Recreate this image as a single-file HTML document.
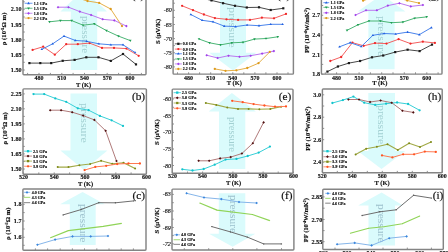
<!DOCTYPE html><html><head><meta charset="utf-8"><style>html,body{margin:0;padding:0;background:#fff;width:448px;height:252px;overflow:hidden}svg{display:block;-webkit-font-smoothing:antialiased;will-change:transform;transform:translateZ(0)}</style></head><body>
<svg width="448" height="252" viewBox="0 0 448 252">
<rect width="448" height="252" fill="#fff"/>
<polygon points="83.7,-10 107,11.5 97.2,11.5 97.2,70 70.8,70 70.8,11.5 60.4,11.5" fill="#dafbfc"/>
<polygon points="70.5,93.5 97,93.5 97,150.5 107.4,150.5 84,170 60.4,150.5 70.5,150.5" fill="#dafbfc"/>
<polygon points="82.6,192 104.8,204.2 95.7,204.2 95.7,245 69.8,245 69.8,204.2 60.1,204.2" fill="#dafbfc"/>
<polygon points="220,-10 246,-10 246,52.7 256.2,52.7 233,70.5 209.4,52.7 220,52.7" fill="#dafbfc"/>
<polygon points="231.9,93 255.9,111.4 245.3,111.4 245.3,169 219,169 219,111.4 208.7,111.4" fill="#dafbfc"/>
<polygon points="218.8,193.3 245.3,193.3 245.3,233.7 255.3,233.7 232.6,246.8 209.1,233.7 218.8,233.7" fill="#dafbfc"/>
<polygon points="381.8,-5.3 405.4,11.4 394.6,11.4 394.6,69.2 368.4,69.2 368.4,11.4 357.7,11.4" fill="#dafbfc"/>
<polygon points="368.3,93 395,93 395,151 405.2,151 381.5,169 357.8,151 368.3,151" fill="#dafbfc"/>
<polygon points="381.6,192.5 403,205.6 395,205.6 395,245.5 368.5,245.5 368.5,205.6 358.1,205.6" fill="#dafbfc"/>
<text x="0" y="0" transform="translate(81.58,16) rotate(90)" font-family="Liberation Serif" font-size="11" fill="#a2d0d2" textLength="37.2" lengthAdjust="spacingAndGlyphs">pressure</text>
<text x="0" y="0" transform="translate(80.58,103) rotate(90)" font-family="Liberation Serif" font-size="11" fill="#a2d0d2" textLength="39.80000000000001" lengthAdjust="spacingAndGlyphs">pressure</text>
<text x="0" y="0" transform="translate(79.99,204) rotate(90)" font-family="Liberation Serif" font-size="10.5" fill="#9cc0cc" textLength="38.400000000000006" lengthAdjust="spacingAndGlyphs">pressure</text>
<text x="0" y="0" transform="translate(228.58,7.1) rotate(90)" font-family="Liberation Serif" font-size="11" fill="#a2d0d2" textLength="40.5" lengthAdjust="spacingAndGlyphs">pressure</text>
<text x="0" y="0" transform="translate(229.29,117) rotate(90)" font-family="Liberation Serif" font-size="10.5" fill="#a2d0d2" textLength="35" lengthAdjust="spacingAndGlyphs">pressure</text>
<text x="0" y="0" transform="translate(229.69,195) rotate(90)" font-family="Liberation Serif" font-size="10.5" fill="#9cc0cc" textLength="38" lengthAdjust="spacingAndGlyphs">pressure</text>
<text x="0" y="0" transform="translate(377.97999999999996,16.1) rotate(90)" font-family="Liberation Serif" font-size="11" fill="#a2d0d2" textLength="40.3" lengthAdjust="spacingAndGlyphs">pressure</text>
<text x="0" y="0" transform="translate(378.09,105) rotate(90)" font-family="Liberation Serif" font-size="10.5" fill="#a2d0d2" textLength="39.19999999999999" lengthAdjust="spacingAndGlyphs">pressure</text>
<text x="0" y="0" transform="translate(377.72400000000005,204.1) rotate(90)" font-family="Liberation Serif" font-size="10.8" fill="#9cc0cc" textLength="38.5" lengthAdjust="spacingAndGlyphs">pressure</text>
<polyline points="29.4,63.1 40.3,63.1 51.2,63.1 62.7,60.8 74.6,59.9 86.3,57.3 98.5,57.3 110.8,60.9 123,54 136,64.4" fill="none" stroke="#484848" stroke-width="1.0" stroke-linejoin="round"/>
<rect x="28.307499999999997" y="62.0075" width="2.1849999999999996" height="2.1849999999999996" fill="#1a1a1a"/>
<rect x="39.207499999999996" y="62.0075" width="2.1849999999999996" height="2.1849999999999996" fill="#1a1a1a"/>
<rect x="50.1075" y="62.0075" width="2.1849999999999996" height="2.1849999999999996" fill="#1a1a1a"/>
<rect x="61.6075" y="59.707499999999996" width="2.1849999999999996" height="2.1849999999999996" fill="#1a1a1a"/>
<rect x="73.5075" y="58.8075" width="2.1849999999999996" height="2.1849999999999996" fill="#1a1a1a"/>
<rect x="85.2075" y="56.207499999999996" width="2.1849999999999996" height="2.1849999999999996" fill="#1a1a1a"/>
<rect x="97.4075" y="56.207499999999996" width="2.1849999999999996" height="2.1849999999999996" fill="#1a1a1a"/>
<rect x="109.7075" y="59.8075" width="2.1849999999999996" height="2.1849999999999996" fill="#1a1a1a"/>
<rect x="121.9075" y="52.9075" width="2.1849999999999996" height="2.1849999999999996" fill="#1a1a1a"/>
<rect x="134.9075" y="63.307500000000005" width="2.1849999999999996" height="2.1849999999999996" fill="#1a1a1a"/>
<polyline points="32.6,49.9 43.2,46.7 54.8,54.7 66.2,44.2 77.8,44.2 89.6,43.1 102,47.9 114,47.9 126.4,48.6 138.7,55.8" fill="none" stroke="#f46060" stroke-width="1.0" stroke-linejoin="round"/>
<circle cx="32.6" cy="49.9" r="1.15" fill="#f02828"/>
<circle cx="43.2" cy="46.7" r="1.15" fill="#f02828"/>
<circle cx="54.8" cy="54.7" r="1.15" fill="#f02828"/>
<circle cx="66.2" cy="44.2" r="1.15" fill="#f02828"/>
<circle cx="77.8" cy="44.2" r="1.15" fill="#f02828"/>
<circle cx="89.6" cy="43.1" r="1.15" fill="#f02828"/>
<circle cx="102" cy="47.9" r="1.15" fill="#f02828"/>
<circle cx="114" cy="47.9" r="1.15" fill="#f02828"/>
<circle cx="126.4" cy="48.6" r="1.15" fill="#f02828"/>
<circle cx="138.7" cy="55.8" r="1.15" fill="#f02828"/>
<polyline points="41.8,49.3 52.7,43.8 64,36.1 75.2,40.4 86.7,41.3 98.8,43.8 110.8,44.8 123,44.8 135.1,52.5" fill="none" stroke="#4a84ec" stroke-width="1.0" stroke-linejoin="round"/>
<polygon points="41.8,47.934374999999996 43.09734374999999,50.119375 40.50265625,50.119375" fill="#1f5fe0"/>
<polygon points="52.7,42.434374999999996 53.99734375,44.619375 51.40265625000001,44.619375" fill="#1f5fe0"/>
<polygon points="64,34.734375 65.29734375,36.919375 62.702656250000004,36.919375" fill="#1f5fe0"/>
<polygon points="75.2,39.034375 76.49734375,41.219375 73.90265625,41.219375" fill="#1f5fe0"/>
<polygon points="86.7,39.934374999999996 87.99734375,42.119375 85.40265625,42.119375" fill="#1f5fe0"/>
<polygon points="98.8,42.434374999999996 100.09734375,44.619375 97.50265625,44.619375" fill="#1f5fe0"/>
<polygon points="110.8,43.434374999999996 112.09734375,45.619375 109.50265625,45.619375" fill="#1f5fe0"/>
<polygon points="123,43.434374999999996 124.29734375,45.619375 121.70265625,45.619375" fill="#1f5fe0"/>
<polygon points="135.1,51.134375 136.39734375,53.319375 133.80265624999998,53.319375" fill="#1f5fe0"/>
<polyline points="49.5,21.8 60.4,20.6 71.7,20.6 83.1,25.2 94.3,23.9 106.5,30.6 118.4,36.1 130.3,40.6" fill="none" stroke="#4cb676" stroke-width="1.0" stroke-linejoin="round"/>
<polygon points="49.5,23.165625 50.797343749999996,20.980625 48.202656250000004,20.980625" fill="#1e9e52"/>
<polygon points="60.4,21.965625000000003 61.69734375,19.780625 59.102656249999995,19.780625" fill="#1e9e52"/>
<polygon points="71.7,21.965625000000003 72.99734375,19.780625 70.40265625,19.780625" fill="#1e9e52"/>
<polygon points="83.1,26.565624999999997 84.39734374999999,24.380625 81.80265625,24.380625" fill="#1e9e52"/>
<polygon points="94.3,25.265625 95.59734375,23.080624999999998 93.00265625,23.080624999999998" fill="#1e9e52"/>
<polygon points="106.5,31.965625000000003 107.79734375,29.780625 105.20265625,29.780625" fill="#1e9e52"/>
<polygon points="118.4,37.465625 119.69734375,35.280625 117.10265625000001,35.280625" fill="#1e9e52"/>
<polygon points="130.3,41.965625 131.59734375000002,39.780625 129.00265625,39.780625" fill="#1e9e52"/>
<polyline points="58,7.2 68.5,7.2 79.8,11.6 91.1,15 102.7,19.3 114.3,20.4 126.4,26.1" fill="none" stroke="#bc78f0" stroke-width="1.0" stroke-linejoin="round"/>
<polygon points="58,5.889 59.311,7.2 58,8.511 56.689,7.2" fill="#a040ea"/>
<polygon points="68.5,5.889 69.81099999999999,7.2 68.5,8.511 67.18900000000001,7.2" fill="#a040ea"/>
<polygon points="79.8,10.289 81.11099999999999,11.6 79.8,12.911 78.489,11.6" fill="#a040ea"/>
<polygon points="91.1,13.689 92.41099999999999,15 91.1,16.311 89.789,15" fill="#a040ea"/>
<polygon points="102.7,17.989 104.011,19.3 102.7,20.611 101.38900000000001,19.3" fill="#a040ea"/>
<polygon points="114.3,19.089 115.61099999999999,20.4 114.3,21.711 112.989,20.4" fill="#a040ea"/>
<polygon points="126.4,24.789 127.711,26.1 126.4,27.411 125.08900000000001,26.1" fill="#a040ea"/>
<polyline points="76,-2.5 87.5,1 99.2,2.9 110.7,9 122,26.1" fill="none" stroke="#e6b048" stroke-width="1.0" stroke-linejoin="round"/>
<circle cx="76" cy="-2.5" r="1.15" fill="#dc9a1c"/>
<circle cx="87.5" cy="1" r="1.15" fill="#dc9a1c"/>
<circle cx="99.2" cy="2.9" r="1.15" fill="#dc9a1c"/>
<circle cx="110.7" cy="9" r="1.15" fill="#dc9a1c"/>
<circle cx="122" cy="26.1" r="1.15" fill="#dc9a1c"/>
<polyline points="188,-5 199.8,-2.2 211.5,0.4 223.1,3.2 235,5.8 246.8,7.5 259,7.3 270.7,10 283.3,8.3" fill="none" stroke="#484848" stroke-width="1.0" stroke-linejoin="round"/>
<rect x="186.9075" y="-6.092499999999999" width="2.1849999999999996" height="2.1849999999999996" fill="#1a1a1a"/>
<rect x="198.7075" y="-3.2925" width="2.1849999999999996" height="2.1849999999999996" fill="#1a1a1a"/>
<rect x="210.4075" y="-0.6924999999999998" width="2.1849999999999996" height="2.1849999999999996" fill="#1a1a1a"/>
<rect x="222.0075" y="2.1075000000000004" width="2.1849999999999996" height="2.1849999999999996" fill="#1a1a1a"/>
<rect x="233.9075" y="4.7075" width="2.1849999999999996" height="2.1849999999999996" fill="#1a1a1a"/>
<rect x="245.7075" y="6.407500000000001" width="2.1849999999999996" height="2.1849999999999996" fill="#1a1a1a"/>
<rect x="257.9075" y="6.2075" width="2.1849999999999996" height="2.1849999999999996" fill="#1a1a1a"/>
<rect x="269.6075" y="8.9075" width="2.1849999999999996" height="2.1849999999999996" fill="#1a1a1a"/>
<rect x="282.20750000000004" y="7.207500000000001" width="2.1849999999999996" height="2.1849999999999996" fill="#1a1a1a"/>
<polyline points="182.1,5.8 193,10.2 203.9,14.5 214.9,18.1 226.5,19.3 238.1,19.9 250,19.9 261.9,17.7 274,18.3 286,13.9" fill="none" stroke="#f46060" stroke-width="1.0" stroke-linejoin="round"/>
<circle cx="182.1" cy="5.8" r="1.15" fill="#f02828"/>
<circle cx="193" cy="10.2" r="1.15" fill="#f02828"/>
<circle cx="203.9" cy="14.5" r="1.15" fill="#f02828"/>
<circle cx="214.9" cy="18.1" r="1.15" fill="#f02828"/>
<circle cx="226.5" cy="19.3" r="1.15" fill="#f02828"/>
<circle cx="238.1" cy="19.9" r="1.15" fill="#f02828"/>
<circle cx="250" cy="19.9" r="1.15" fill="#f02828"/>
<circle cx="261.9" cy="17.7" r="1.15" fill="#f02828"/>
<circle cx="274" cy="18.3" r="1.15" fill="#f02828"/>
<circle cx="286" cy="13.9" r="1.15" fill="#f02828"/>
<polyline points="190.8,14.5 202.1,20.3 213,21.8 224.2,26.1 235.5,26.6 247.1,25 259,25.7 270.7,24.3 282.6,24.3" fill="none" stroke="#4a84ec" stroke-width="1.0" stroke-linejoin="round"/>
<polygon points="190.8,13.134375 192.09734375000002,15.319374999999999 189.50265625,15.319374999999999" fill="#1f5fe0"/>
<polygon points="202.1,18.934375000000003 203.39734375,21.119375 200.80265624999998,21.119375" fill="#1f5fe0"/>
<polygon points="213,20.434375000000003 214.29734375,22.619375 211.70265625,22.619375" fill="#1f5fe0"/>
<polygon points="224.2,24.734375 225.49734375,26.919375000000002 222.90265624999998,26.919375000000002" fill="#1f5fe0"/>
<polygon points="235.5,25.234375 236.79734375,27.419375000000002 234.20265625,27.419375000000002" fill="#1f5fe0"/>
<polygon points="247.1,23.634375 248.39734375,25.819375 245.80265624999998,25.819375" fill="#1f5fe0"/>
<polygon points="259,24.334375 260.29734375,26.519375 257.70265625,26.519375" fill="#1f5fe0"/>
<polygon points="270.7,22.934375000000003 271.99734374999997,25.119375 269.40265625,25.119375" fill="#1f5fe0"/>
<polygon points="282.6,22.934375000000003 283.89734375,25.119375 281.30265625000004,25.119375" fill="#1f5fe0"/>
<polyline points="199,39 209.5,42.8 220.5,44.9 231.8,42.8 243,42.3 254.5,39.1 266,38.5 277.8,36.8" fill="none" stroke="#4cb676" stroke-width="1.0" stroke-linejoin="round"/>
<polygon points="199,40.365625 200.29734375,38.180625 197.70265625,38.180625" fill="#1e9e52"/>
<polygon points="209.5,44.165625 210.79734375,41.980624999999996 208.20265625,41.980624999999996" fill="#1e9e52"/>
<polygon points="220.5,46.265625 221.79734375,44.080625 219.20265625,44.080625" fill="#1e9e52"/>
<polygon points="231.8,44.165625 233.09734375000002,41.980624999999996 230.50265625,41.980624999999996" fill="#1e9e52"/>
<polygon points="243,43.665625 244.29734375,41.480624999999996 241.70265625,41.480624999999996" fill="#1e9e52"/>
<polygon points="254.5,40.465625 255.79734375,38.280625 253.20265625,38.280625" fill="#1e9e52"/>
<polygon points="266,39.865625 267.29734375,37.680625 264.70265625,37.680625" fill="#1e9e52"/>
<polygon points="277.8,38.165625 279.09734375,35.980624999999996 276.50265625000003,35.980624999999996" fill="#1e9e52"/>
<polyline points="206.7,55.2 217.6,58 228.5,55.7 239.5,56.8 250.7,55.7 262.1,53.6 273.9,51.1" fill="none" stroke="#bc78f0" stroke-width="1.0" stroke-linejoin="round"/>
<polygon points="206.7,53.889 208.011,55.2 206.7,56.511 205.38899999999998,55.2" fill="#a040ea"/>
<polygon points="217.6,56.689 218.911,58 217.6,59.311 216.289,58" fill="#a040ea"/>
<polygon points="228.5,54.389 229.811,55.7 228.5,57.011 227.189,55.7" fill="#a040ea"/>
<polygon points="239.5,55.489 240.811,56.8 239.5,58.111 238.189,56.8" fill="#a040ea"/>
<polygon points="250.7,54.389 252.011,55.7 250.7,57.011 249.38899999999998,55.7" fill="#a040ea"/>
<polygon points="262.1,52.289 263.411,53.6 262.1,54.911 260.78900000000004,53.6" fill="#a040ea"/>
<polygon points="273.9,49.789 275.21099999999996,51.1 273.9,52.411 272.589,51.1" fill="#a040ea"/>
<polyline points="214.8,68.9 225.5,70.8 236.4,70.3 247.3,68 258.5,63.2 269.8,51.9" fill="none" stroke="#e6b048" stroke-width="1.0" stroke-linejoin="round"/>
<circle cx="214.8" cy="68.9" r="1.15" fill="#dc9a1c"/>
<circle cx="225.5" cy="70.8" r="1.15" fill="#dc9a1c"/>
<circle cx="236.4" cy="70.3" r="1.15" fill="#dc9a1c"/>
<circle cx="247.3" cy="68" r="1.15" fill="#dc9a1c"/>
<circle cx="258.5" cy="63.2" r="1.15" fill="#dc9a1c"/>
<circle cx="269.8" cy="51.9" r="1.15" fill="#dc9a1c"/>
<polyline points="327.4,71.6 337.9,66.5 348.9,63.1 360.1,61 372,57.3 383.2,55.5 395.2,52.1 407.6,49.7 419.6,51.1 432,44.6" fill="none" stroke="#484848" stroke-width="1.0" stroke-linejoin="round"/>
<rect x="326.3075" y="70.5075" width="2.1849999999999996" height="2.1849999999999996" fill="#1a1a1a"/>
<rect x="336.8075" y="65.4075" width="2.1849999999999996" height="2.1849999999999996" fill="#1a1a1a"/>
<rect x="347.8075" y="62.0075" width="2.1849999999999996" height="2.1849999999999996" fill="#1a1a1a"/>
<rect x="359.00750000000005" y="59.9075" width="2.1849999999999996" height="2.1849999999999996" fill="#1a1a1a"/>
<rect x="370.9075" y="56.207499999999996" width="2.1849999999999996" height="2.1849999999999996" fill="#1a1a1a"/>
<rect x="382.1075" y="54.4075" width="2.1849999999999996" height="2.1849999999999996" fill="#1a1a1a"/>
<rect x="394.1075" y="51.0075" width="2.1849999999999996" height="2.1849999999999996" fill="#1a1a1a"/>
<rect x="406.50750000000005" y="48.6075" width="2.1849999999999996" height="2.1849999999999996" fill="#1a1a1a"/>
<rect x="418.50750000000005" y="50.0075" width="2.1849999999999996" height="2.1849999999999996" fill="#1a1a1a"/>
<rect x="430.9075" y="43.5075" width="2.1849999999999996" height="2.1849999999999996" fill="#1a1a1a"/>
<polyline points="330.3,61 341.2,57 352.4,42.7 363.7,45.8 375,43.1 386.5,43.6 398.6,39.2 410.5,43.6 422.8,41.7 434.9,42.9" fill="none" stroke="#f46060" stroke-width="1.0" stroke-linejoin="round"/>
<circle cx="330.3" cy="61" r="1.15" fill="#f02828"/>
<circle cx="341.2" cy="57" r="1.15" fill="#f02828"/>
<circle cx="352.4" cy="42.7" r="1.15" fill="#f02828"/>
<circle cx="363.7" cy="45.8" r="1.15" fill="#f02828"/>
<circle cx="375" cy="43.1" r="1.15" fill="#f02828"/>
<circle cx="386.5" cy="43.6" r="1.15" fill="#f02828"/>
<circle cx="398.6" cy="39.2" r="1.15" fill="#f02828"/>
<circle cx="410.5" cy="43.6" r="1.15" fill="#f02828"/>
<circle cx="422.8" cy="41.7" r="1.15" fill="#f02828"/>
<circle cx="434.9" cy="42.9" r="1.15" fill="#f02828"/>
<polyline points="339.5,46.8 350.2,42.7 361.3,46.5 372.9,35.3 384.1,33.5 395.7,34 407.6,32.1 419.4,34.6 431.4,27.6" fill="none" stroke="#4a84ec" stroke-width="1.0" stroke-linejoin="round"/>
<polygon points="339.5,45.434374999999996 340.79734375,47.619375 338.20265625,47.619375" fill="#1f5fe0"/>
<polygon points="350.2,41.334375 351.49734374999997,43.519375000000004 348.90265625,43.519375000000004" fill="#1f5fe0"/>
<polygon points="361.3,45.134375 362.59734375,47.319375 360.00265625000003,47.319375" fill="#1f5fe0"/>
<polygon points="372.9,33.934374999999996 374.19734374999996,36.119375 371.60265625,36.119375" fill="#1f5fe0"/>
<polygon points="384.1,32.134375 385.39734375,34.319375 382.80265625000004,34.319375" fill="#1f5fe0"/>
<polygon points="395.7,32.634375 396.99734374999997,34.819375 394.40265625,34.819375" fill="#1f5fe0"/>
<polygon points="407.6,30.734375 408.89734375,32.919375 406.30265625000004,32.919375" fill="#1f5fe0"/>
<polygon points="419.4,33.234375 420.69734374999996,35.419375 418.10265625,35.419375" fill="#1f5fe0"/>
<polygon points="431.4,26.234375 432.69734374999996,28.419375000000002 430.10265625,28.419375000000002" fill="#1f5fe0"/>
<polyline points="347,30.3 358,24.8 369,21 380.4,21 391.4,22.7 402.9,22.1 414.7,18.2 426.7,16.9" fill="none" stroke="#4cb676" stroke-width="1.0" stroke-linejoin="round"/>
<polygon points="347,31.665625 348.29734375,29.480625 345.70265625,29.480625" fill="#1e9e52"/>
<polygon points="358,26.165625 359.29734375,23.980625 356.70265625,23.980625" fill="#1e9e52"/>
<polygon points="369,22.365625 370.29734375,20.180625 367.70265625,20.180625" fill="#1e9e52"/>
<polygon points="380.4,22.365625 381.69734374999996,20.180625 379.10265625,20.180625" fill="#1e9e52"/>
<polygon points="391.4,24.065624999999997 392.69734374999996,21.880625 390.10265625,21.880625" fill="#1e9e52"/>
<polygon points="402.9,23.465625000000003 404.19734374999996,21.280625 401.60265625,21.280625" fill="#1e9e52"/>
<polygon points="414.7,19.565624999999997 415.99734374999997,17.380625 413.40265625,17.380625" fill="#1e9e52"/>
<polygon points="426.7,18.265625 427.99734374999997,16.080624999999998 425.40265625,16.080624999999998" fill="#1e9e52"/>
<polyline points="355.5,15 366,10.3 376.9,10.3 387.9,5.6 399.4,3.2 410.8,6.4 422.9,5" fill="none" stroke="#bc78f0" stroke-width="1.0" stroke-linejoin="round"/>
<polygon points="355.5,13.689 356.811,15 355.5,16.311 354.189,15" fill="#a040ea"/>
<polygon points="366,8.989 367.311,10.3 366,11.611 364.689,10.3" fill="#a040ea"/>
<polygon points="376.9,8.989 378.21099999999996,10.3 376.9,11.611 375.589,10.3" fill="#a040ea"/>
<polygon points="387.9,4.289 389.21099999999996,5.6 387.9,6.911 386.589,5.6" fill="#a040ea"/>
<polygon points="399.4,1.8890000000000005 400.71099999999996,3.2 399.4,4.511 398.089,3.2" fill="#a040ea"/>
<polygon points="410.8,5.089 412.111,6.4 410.8,7.711 409.48900000000003,6.4" fill="#a040ea"/>
<polygon points="422.9,3.689 424.21099999999996,5 422.9,6.311 421.589,5" fill="#a040ea"/>
<polyline points="363.1,0.7 374,-3 385,-5 396,-3 407.2,0.5 419,3.1" fill="none" stroke="#e6b048" stroke-width="1.0" stroke-linejoin="round"/>
<circle cx="363.1" cy="0.7" r="1.15" fill="#dc9a1c"/>
<circle cx="374" cy="-3" r="1.15" fill="#dc9a1c"/>
<circle cx="385" cy="-5" r="1.15" fill="#dc9a1c"/>
<circle cx="396" cy="-3" r="1.15" fill="#dc9a1c"/>
<circle cx="407.2" cy="0.5" r="1.15" fill="#dc9a1c"/>
<circle cx="419" cy="3.1" r="1.15" fill="#dc9a1c"/>
<polyline points="33.5,94.1 44.2,94.1 55.3,98.4 66.2,101.8 77.8,108.3 88.6,110.2 99.9,115.9 111.6,120.3 123,125.9" fill="none" stroke="#38d0d8" stroke-width="1.0" stroke-linejoin="round"/>
<circle cx="33.5" cy="94.1" r="1.15" fill="#12c4cc"/>
<circle cx="44.2" cy="94.1" r="1.15" fill="#12c4cc"/>
<circle cx="55.3" cy="98.4" r="1.15" fill="#12c4cc"/>
<circle cx="66.2" cy="101.8" r="1.15" fill="#12c4cc"/>
<circle cx="77.8" cy="108.3" r="1.15" fill="#12c4cc"/>
<circle cx="88.6" cy="110.2" r="1.15" fill="#12c4cc"/>
<circle cx="99.9" cy="115.9" r="1.15" fill="#12c4cc"/>
<circle cx="111.6" cy="120.3" r="1.15" fill="#12c4cc"/>
<circle cx="123" cy="125.9" r="1.15" fill="#12c4cc"/>
<polyline points="50.2,110.2 61.1,110.2 72.2,112.2 83.1,115.6 94.4,119.9 105.6,130.7 116.5,161" fill="none" stroke="#b07a7a" stroke-width="1.0" stroke-linejoin="round"/>
<polygon points="50.2,108.88900000000001 51.511,110.2 50.2,111.511 48.889,110.2" fill="#501010"/>
<polygon points="61.1,108.88900000000001 62.411,110.2 61.1,111.511 59.789,110.2" fill="#501010"/>
<polygon points="72.2,110.88900000000001 73.511,112.2 72.2,113.511 70.88900000000001,112.2" fill="#501010"/>
<polygon points="83.1,114.289 84.41099999999999,115.6 83.1,116.91099999999999 81.789,115.6" fill="#501010"/>
<polygon points="94.4,118.58900000000001 95.711,119.9 94.4,121.211 93.08900000000001,119.9" fill="#501010"/>
<polygon points="105.6,129.38899999999998 106.91099999999999,130.7 105.6,132.011 104.289,130.7" fill="#501010"/>
<polygon points="116.5,159.689 117.81099999999999,161 116.5,162.311 115.18900000000001,161" fill="#501010"/>
<polyline points="57.7,167.1 68.5,167.1 79.4,165.2 90.1,164 101.1,160.7 112.2,163.8 123.5,162.8 135.1,168.6" fill="none" stroke="#a2aa48" stroke-width="1.15" stroke-linejoin="round"/>
<circle cx="57.7" cy="167.1" r="1.0" fill="#7e8a18"/>
<circle cx="68.5" cy="167.1" r="1.0" fill="#7e8a18"/>
<circle cx="79.4" cy="165.2" r="1.0" fill="#7e8a18"/>
<circle cx="90.1" cy="164" r="1.0" fill="#7e8a18"/>
<circle cx="101.1" cy="160.7" r="1.0" fill="#7e8a18"/>
<circle cx="112.2" cy="163.8" r="1.0" fill="#7e8a18"/>
<circle cx="123.5" cy="162.8" r="1.0" fill="#7e8a18"/>
<circle cx="135.1" cy="168.6" r="1.0" fill="#7e8a18"/>
<polyline points="84.6,170.1 95.3,166.9 106.2,165.8 117.2,164 128.5,163.5 139.9,163.5" fill="none" stroke="#ff7a52" stroke-width="1.0" stroke-linejoin="round"/>
<circle cx="84.6" cy="170.1" r="1.15" fill="#ff5422"/>
<circle cx="95.3" cy="166.9" r="1.15" fill="#ff5422"/>
<circle cx="106.2" cy="165.8" r="1.15" fill="#ff5422"/>
<circle cx="117.2" cy="164" r="1.15" fill="#ff5422"/>
<circle cx="128.5" cy="163.5" r="1.15" fill="#ff5422"/>
<circle cx="139.9" cy="163.5" r="1.15" fill="#ff5422"/>
<polyline points="182.3,169.3 192.5,170.5 203.7,169 214.7,164.7 225.6,159.6 236.5,158.9 247.7,156 258.7,152.6 269.9,146.6" fill="none" stroke="#38d0d8" stroke-width="1.0" stroke-linejoin="round"/>
<circle cx="182.3" cy="169.3" r="1.15" fill="#12c4cc"/>
<circle cx="192.5" cy="170.5" r="1.15" fill="#12c4cc"/>
<circle cx="203.7" cy="169" r="1.15" fill="#12c4cc"/>
<circle cx="214.7" cy="164.7" r="1.15" fill="#12c4cc"/>
<circle cx="225.6" cy="159.6" r="1.15" fill="#12c4cc"/>
<circle cx="236.5" cy="158.9" r="1.15" fill="#12c4cc"/>
<circle cx="247.7" cy="156" r="1.15" fill="#12c4cc"/>
<circle cx="258.7" cy="152.6" r="1.15" fill="#12c4cc"/>
<circle cx="269.9" cy="146.6" r="1.15" fill="#12c4cc"/>
<polyline points="198.6,160.8 209.2,160.8 220.1,158.4 230.7,157.1 241.9,153.5 252.8,143.3 263.6,122.4" fill="none" stroke="#b07a7a" stroke-width="1.0" stroke-linejoin="round"/>
<polygon points="198.6,159.489 199.911,160.8 198.6,162.11100000000002 197.289,160.8" fill="#501010"/>
<polygon points="209.2,159.489 210.511,160.8 209.2,162.11100000000002 207.88899999999998,160.8" fill="#501010"/>
<polygon points="220.1,157.089 221.411,158.4 220.1,159.711 218.789,158.4" fill="#501010"/>
<polygon points="230.7,155.789 232.011,157.1 230.7,158.411 229.38899999999998,157.1" fill="#501010"/>
<polygon points="241.9,152.189 243.211,153.5 241.9,154.811 240.589,153.5" fill="#501010"/>
<polygon points="252.8,141.989 254.11100000000002,143.3 252.8,144.61100000000002 251.489,143.3" fill="#501010"/>
<polygon points="263.6,121.08900000000001 264.911,122.4 263.6,123.711 262.28900000000004,122.4" fill="#501010"/>
<polyline points="205.8,103 216.3,104.9 227.3,107.5 238,108.9 248.6,108.9 259.4,109.2 270.3,108.9 281.1,106.7" fill="none" stroke="#a2aa48" stroke-width="1.15" stroke-linejoin="round"/>
<circle cx="205.8" cy="103" r="1.0" fill="#7e8a18"/>
<circle cx="216.3" cy="104.9" r="1.0" fill="#7e8a18"/>
<circle cx="227.3" cy="107.5" r="1.0" fill="#7e8a18"/>
<circle cx="238" cy="108.9" r="1.0" fill="#7e8a18"/>
<circle cx="248.6" cy="108.9" r="1.0" fill="#7e8a18"/>
<circle cx="259.4" cy="109.2" r="1.0" fill="#7e8a18"/>
<circle cx="270.3" cy="108.9" r="1.0" fill="#7e8a18"/>
<circle cx="281.1" cy="106.7" r="1.0" fill="#7e8a18"/>
<polyline points="232.2,100.8 242.7,102.2 253.6,104.1 264.4,105.5 275,106.7 286,106.4" fill="none" stroke="#ff7a52" stroke-width="1.0" stroke-linejoin="round"/>
<circle cx="232.2" cy="100.8" r="1.15" fill="#ff5422"/>
<circle cx="242.7" cy="102.2" r="1.15" fill="#ff5422"/>
<circle cx="253.6" cy="104.1" r="1.15" fill="#ff5422"/>
<circle cx="264.4" cy="105.5" r="1.15" fill="#ff5422"/>
<circle cx="275" cy="106.7" r="1.15" fill="#ff5422"/>
<circle cx="286" cy="106.4" r="1.15" fill="#ff5422"/>
<polyline points="332.4,103 342.9,100.1 353.4,96.6 364.2,102.7 375.2,104.9 386.1,103.7 397.1,102.5 408.1,104 419.6,110.3" fill="none" stroke="#38d0d8" stroke-width="1.0" stroke-linejoin="round"/>
<circle cx="332.4" cy="103" r="1.15" fill="#12c4cc"/>
<circle cx="342.9" cy="100.1" r="1.15" fill="#12c4cc"/>
<circle cx="353.4" cy="96.6" r="1.15" fill="#12c4cc"/>
<circle cx="364.2" cy="102.7" r="1.15" fill="#12c4cc"/>
<circle cx="375.2" cy="104.9" r="1.15" fill="#12c4cc"/>
<circle cx="386.1" cy="103.7" r="1.15" fill="#12c4cc"/>
<circle cx="397.1" cy="102.5" r="1.15" fill="#12c4cc"/>
<circle cx="408.1" cy="104" r="1.15" fill="#12c4cc"/>
<circle cx="419.6" cy="110.3" r="1.15" fill="#12c4cc"/>
<polyline points="348.4,99.5 359,99.5 370.1,102 380.6,100.5 391.7,102.7 402.4,110.7 413.3,112.4" fill="none" stroke="#b07a7a" stroke-width="1.0" stroke-linejoin="round"/>
<polygon points="348.4,98.18900000000001 349.71099999999996,99.5 348.4,100.81099999999999 347.089,99.5" fill="#501010"/>
<polygon points="359,98.18900000000001 360.311,99.5 359,100.81099999999999 357.689,99.5" fill="#501010"/>
<polygon points="370.1,100.68900000000001 371.411,102 370.1,103.31099999999999 368.78900000000004,102" fill="#501010"/>
<polygon points="380.6,99.18900000000001 381.911,100.5 380.6,101.81099999999999 379.28900000000004,100.5" fill="#501010"/>
<polygon points="391.7,101.38900000000001 393.01099999999997,102.7 391.7,104.011 390.389,102.7" fill="#501010"/>
<polygon points="402.4,109.38900000000001 403.71099999999996,110.7 402.4,112.011 401.089,110.7" fill="#501010"/>
<polygon points="413.3,111.08900000000001 414.611,112.4 413.3,113.711 411.98900000000003,112.4" fill="#501010"/>
<polyline points="355.6,154.4 366.2,148.7 376.9,146.7 387.5,144.2 397.8,150.1 409.1,143.3 420,147 431,141.9" fill="none" stroke="#a2aa48" stroke-width="1.15" stroke-linejoin="round"/>
<circle cx="355.6" cy="154.4" r="1.0" fill="#7e8a18"/>
<circle cx="366.2" cy="148.7" r="1.0" fill="#7e8a18"/>
<circle cx="376.9" cy="146.7" r="1.0" fill="#7e8a18"/>
<circle cx="387.5" cy="144.2" r="1.0" fill="#7e8a18"/>
<circle cx="397.8" cy="150.1" r="1.0" fill="#7e8a18"/>
<circle cx="409.1" cy="143.3" r="1.0" fill="#7e8a18"/>
<circle cx="420" cy="147" r="1.0" fill="#7e8a18"/>
<circle cx="431" cy="141.9" r="1.0" fill="#7e8a18"/>
<polyline points="382,155.4 392.4,157.4 403.1,154.3 414.1,154.3 424.8,151.6 435.8,151.9" fill="none" stroke="#ff7a52" stroke-width="1.0" stroke-linejoin="round"/>
<circle cx="382" cy="155.4" r="1.15" fill="#ff5422"/>
<circle cx="392.4" cy="157.4" r="1.15" fill="#ff5422"/>
<circle cx="403.1" cy="154.3" r="1.15" fill="#ff5422"/>
<circle cx="414.1" cy="154.3" r="1.15" fill="#ff5422"/>
<circle cx="424.8" cy="151.6" r="1.15" fill="#ff5422"/>
<circle cx="435.8" cy="151.9" r="1.15" fill="#ff5422"/>
<polyline points="37.4,244.8 55.1,239.6 72.5,236.4 90.7,236.4 108,236" fill="none" stroke="#86b6ea" stroke-width="1.0" stroke-linejoin="round"/>
<polygon points="37.4,243.489 38.711,244.8 37.4,246.11100000000002 36.089,244.8" fill="#3a86dc"/>
<polygon points="55.1,238.289 56.411,239.6 55.1,240.911 53.789,239.6" fill="#3a86dc"/>
<polygon points="72.5,235.089 73.81099999999999,236.4 72.5,237.711 71.18900000000001,236.4" fill="#3a86dc"/>
<polygon points="90.7,235.089 92.011,236.4 90.7,237.711 89.38900000000001,236.4" fill="#3a86dc"/>
<polygon points="108,234.689 109.31099999999999,236 108,237.311 106.68900000000001,236" fill="#3a86dc"/>
<polyline points="50.5,237.8 68.3,230.6 103.2,226.4 121.6,223.4" fill="none" stroke="#90d458" stroke-width="1.15" stroke-linejoin="round"/>
<circle cx="50.5" cy="237.8" r="0.45" fill="#84d044"/>
<circle cx="68.3" cy="230.6" r="0.45" fill="#84d044"/>
<circle cx="103.2" cy="226.4" r="0.45" fill="#84d044"/>
<circle cx="121.6" cy="223.4" r="0.45" fill="#84d044"/>
<polyline points="63.1,214.9 81,209.6 98.8,202.7 115.4,202.8 133.7,200.9" fill="none" stroke="#6e6e6e" stroke-width="1.0" stroke-linejoin="round"/>
<circle cx="63.1" cy="214.9" r="0.7" fill="#555555"/>
<circle cx="81" cy="209.6" r="0.7" fill="#555555"/>
<circle cx="98.8" cy="202.7" r="0.7" fill="#555555"/>
<circle cx="115.4" cy="202.8" r="0.7" fill="#555555"/>
<circle cx="133.7" cy="200.9" r="0.7" fill="#555555"/>
<polyline points="186.6,193.3 204,197.5 221.3,199.1 239,202 256.6,203" fill="none" stroke="#86b6ea" stroke-width="1.0" stroke-linejoin="round"/>
<polygon points="186.6,191.989 187.911,193.3 186.6,194.61100000000002 185.289,193.3" fill="#3a86dc"/>
<polygon points="204,196.189 205.311,197.5 204,198.811 202.689,197.5" fill="#3a86dc"/>
<polygon points="221.3,197.789 222.61100000000002,199.1 221.3,200.411 219.989,199.1" fill="#3a86dc"/>
<polygon points="239,200.689 240.311,202 239,203.311 237.689,202" fill="#3a86dc"/>
<polygon points="256.6,201.689 257.911,203 256.6,204.311 255.28900000000002,203" fill="#3a86dc"/>
<polyline points="199.8,203 217,210.1 252.4,214.5 269.8,220.6" fill="none" stroke="#90d458" stroke-width="1.15" stroke-linejoin="round"/>
<circle cx="199.8" cy="203" r="0.45" fill="#84d044"/>
<circle cx="217" cy="210.1" r="0.45" fill="#84d044"/>
<circle cx="252.4" cy="214.5" r="0.45" fill="#84d044"/>
<circle cx="269.8" cy="220.6" r="0.45" fill="#84d044"/>
<polyline points="211.8,226.6 230.5,231.9 247.3,237.1 263.7,243.9 281.4,243.9" fill="none" stroke="#6e6e6e" stroke-width="1.0" stroke-linejoin="round"/>
<circle cx="211.8" cy="226.6" r="0.7" fill="#555555"/>
<circle cx="230.5" cy="231.9" r="0.7" fill="#555555"/>
<circle cx="247.3" cy="237.1" r="0.7" fill="#555555"/>
<circle cx="263.7" cy="243.9" r="0.7" fill="#555555"/>
<circle cx="281.4" cy="243.9" r="0.7" fill="#555555"/>
<polyline points="337.1,244.3 354.7,242.9 371.6,245.4 389.2,238.2 406.6,236.4" fill="none" stroke="#86b6ea" stroke-width="1.0" stroke-linejoin="round"/>
<polygon points="337.1,242.989 338.411,244.3 337.1,245.61100000000002 335.78900000000004,244.3" fill="#3a86dc"/>
<polygon points="354.7,241.589 356.01099999999997,242.9 354.7,244.211 353.389,242.9" fill="#3a86dc"/>
<polygon points="371.6,244.089 372.911,245.4 371.6,246.711 370.28900000000004,245.4" fill="#3a86dc"/>
<polygon points="389.2,236.88899999999998 390.51099999999997,238.2 389.2,239.511 387.889,238.2" fill="#3a86dc"/>
<polygon points="406.6,235.089 407.911,236.4 406.6,237.711 405.28900000000004,236.4" fill="#3a86dc"/>
<polyline points="350.3,233.3 368.6,228.2 383.9,226.8 402.2,223.7 419.8,216" fill="none" stroke="#90d458" stroke-width="1.15" stroke-linejoin="round"/>
<circle cx="350.3" cy="233.3" r="0.45" fill="#84d044"/>
<circle cx="368.6" cy="228.2" r="0.45" fill="#84d044"/>
<circle cx="383.9" cy="226.8" r="0.45" fill="#84d044"/>
<circle cx="402.2" cy="223.7" r="0.45" fill="#84d044"/>
<circle cx="419.8" cy="216" r="0.45" fill="#84d044"/>
<polyline points="362.1,215.5 379.8,211.8 396.2,209.8 413.6,195.3 431.4,198.1" fill="none" stroke="#6e6e6e" stroke-width="1.0" stroke-linejoin="round"/>
<circle cx="362.1" cy="215.5" r="0.7" fill="#555555"/>
<circle cx="379.8" cy="211.8" r="0.7" fill="#555555"/>
<circle cx="396.2" cy="209.8" r="0.7" fill="#555555"/>
<circle cx="413.6" cy="195.3" r="0.7" fill="#555555"/>
<circle cx="431.4" cy="198.1" r="0.7" fill="#555555"/>
<rect x="23" y="-10" width="123" height="84.7" rx="0.9" fill="none" stroke="#848484" stroke-width="1.45"/>
<rect x="173.1" y="-10" width="120.29999999999998" height="84.1" rx="0.9" fill="none" stroke="#848484" stroke-width="1.45"/>
<rect x="321.4" y="-10" width="120.60000000000002" height="84.1" rx="0.9" fill="none" stroke="#848484" stroke-width="1.45"/>
<rect x="23" y="88.85" width="123.4" height="85.35" rx="0.9" fill="none" stroke="#848484" stroke-width="1.45"/>
<rect x="172.2" y="89.1" width="120.80000000000001" height="84.20000000000002" rx="0.9" fill="none" stroke="#848484" stroke-width="1.45"/>
<rect x="322.4" y="88.9" width="119.80000000000001" height="83.79999999999998" rx="0.9" fill="none" stroke="#848484" stroke-width="1.45"/>
<rect x="22.9" y="188.9" width="123.1" height="61.29999999999998" rx="0.9" fill="none" stroke="#848484" stroke-width="1.45"/>
<rect x="172" y="189.1" width="121.89999999999998" height="60.900000000000006" rx="0.9" fill="none" stroke="#848484" stroke-width="1.45"/>
<rect x="322.8" y="189.2" width="120.5" height="60.20000000000002" rx="0.9" fill="none" stroke="#848484" stroke-width="1.45"/>
<line x1="23" y1="9.2" x2="24.8" y2="9.2" stroke="#848484" stroke-width="0.9"/>
<text x="21.7" y="11.308" font-family="Liberation Serif" font-size="6.2" font-weight="bold" text-anchor="end" fill="#111"  stroke="#111" stroke-width="0.14">2.10</text>
<line x1="23" y1="24.6" x2="24.8" y2="24.6" stroke="#848484" stroke-width="0.9"/>
<text x="21.7" y="26.708000000000002" font-family="Liberation Serif" font-size="6.2" font-weight="bold" text-anchor="end" fill="#111"  stroke="#111" stroke-width="0.14">1.95</text>
<line x1="23" y1="39.8" x2="24.8" y2="39.8" stroke="#848484" stroke-width="0.9"/>
<text x="21.7" y="41.907999999999994" font-family="Liberation Serif" font-size="6.2" font-weight="bold" text-anchor="end" fill="#111"  stroke="#111" stroke-width="0.14">1.80</text>
<line x1="23" y1="54.8" x2="24.8" y2="54.8" stroke="#848484" stroke-width="0.9"/>
<text x="21.7" y="56.907999999999994" font-family="Liberation Serif" font-size="6.2" font-weight="bold" text-anchor="end" fill="#111"  stroke="#111" stroke-width="0.14">1.65</text>
<line x1="23" y1="70" x2="24.8" y2="70" stroke="#848484" stroke-width="0.9"/>
<text x="21.7" y="72.108" font-family="Liberation Serif" font-size="6.2" font-weight="bold" text-anchor="end" fill="#111"  stroke="#111" stroke-width="0.14">1.50</text>
<line x1="23" y1="1.8" x2="24.8" y2="1.8" stroke="#848484" stroke-width="0.9"/>
<line x1="23" y1="17" x2="24.8" y2="17" stroke="#848484" stroke-width="0.9"/>
<line x1="23" y1="32" x2="24.8" y2="32" stroke="#848484" stroke-width="0.9"/>
<line x1="23" y1="47.3" x2="24.8" y2="47.3" stroke="#848484" stroke-width="0.9"/>
<line x1="23" y1="62.3" x2="24.8" y2="62.3" stroke="#848484" stroke-width="0.9"/>
<line x1="39" y1="74.7" x2="39" y2="72.9" stroke="#848484" stroke-width="0.9"/>
<text x="39" y="80.4" font-family="Liberation Serif" font-size="6.0" font-weight="bold" text-anchor="middle" fill="#111"  stroke="#111" stroke-width="0.14">480</text>
<line x1="61.8" y1="74.7" x2="61.8" y2="72.9" stroke="#848484" stroke-width="0.9"/>
<text x="61.8" y="80.4" font-family="Liberation Serif" font-size="6.0" font-weight="bold" text-anchor="middle" fill="#111"  stroke="#111" stroke-width="0.14">510</text>
<line x1="84.5" y1="74.7" x2="84.5" y2="72.9" stroke="#848484" stroke-width="0.9"/>
<text x="84.5" y="80.4" font-family="Liberation Serif" font-size="6.0" font-weight="bold" text-anchor="middle" fill="#111"  stroke="#111" stroke-width="0.14">540</text>
<line x1="107.2" y1="74.7" x2="107.2" y2="72.9" stroke="#848484" stroke-width="0.9"/>
<text x="107.2" y="80.4" font-family="Liberation Serif" font-size="6.0" font-weight="bold" text-anchor="middle" fill="#111"  stroke="#111" stroke-width="0.14">570</text>
<line x1="130" y1="74.7" x2="130" y2="72.9" stroke="#848484" stroke-width="0.9"/>
<text x="130" y="80.4" font-family="Liberation Serif" font-size="6.0" font-weight="bold" text-anchor="middle" fill="#111"  stroke="#111" stroke-width="0.14">600</text>
<line x1="27.6" y1="74.7" x2="27.6" y2="72.9" stroke="#848484" stroke-width="0.9"/>
<line x1="50.4" y1="74.7" x2="50.4" y2="72.9" stroke="#848484" stroke-width="0.9"/>
<line x1="73.1" y1="74.7" x2="73.1" y2="72.9" stroke="#848484" stroke-width="0.9"/>
<line x1="95.8" y1="74.7" x2="95.8" y2="72.9" stroke="#848484" stroke-width="0.9"/>
<line x1="118.6" y1="74.7" x2="118.6" y2="72.9" stroke="#848484" stroke-width="0.9"/>
<line x1="141.4" y1="74.7" x2="141.4" y2="72.9" stroke="#848484" stroke-width="0.9"/>
<text x="83.6" y="86.5" font-family="Liberation Serif" font-size="6.5" font-weight="bold" text-anchor="middle" fill="#111"  stroke="#111" stroke-width="0.14">T (K)</text>
<text x="0" y="0" transform="translate(5.574999999999999,45.3) rotate(-90)" font-family="Liberation Serif" font-size="6.5" font-weight="bold" fill="#111" stroke="#111" stroke-width="0.16" textLength="32.699999999999996" lengthAdjust="spacingAndGlyphs">ρ (10<tspan font-size="3.9" dy="-2">-5</tspan><tspan dy="2">Ω m)</tspan></text>
<line x1="23" y1="93.9" x2="24.8" y2="93.9" stroke="#848484" stroke-width="0.9"/>
<text x="21.7" y="96.00800000000001" font-family="Liberation Serif" font-size="6.2" font-weight="bold" text-anchor="end" fill="#111"  stroke="#111" stroke-width="0.14">2.25</text>
<line x1="23" y1="108.8" x2="24.8" y2="108.8" stroke="#848484" stroke-width="0.9"/>
<text x="21.7" y="110.908" font-family="Liberation Serif" font-size="6.2" font-weight="bold" text-anchor="end" fill="#111"  stroke="#111" stroke-width="0.14">2.10</text>
<line x1="23" y1="123.9" x2="24.8" y2="123.9" stroke="#848484" stroke-width="0.9"/>
<text x="21.7" y="126.00800000000001" font-family="Liberation Serif" font-size="6.2" font-weight="bold" text-anchor="end" fill="#111"  stroke="#111" stroke-width="0.14">1.95</text>
<line x1="23" y1="138.9" x2="24.8" y2="138.9" stroke="#848484" stroke-width="0.9"/>
<text x="21.7" y="141.008" font-family="Liberation Serif" font-size="6.2" font-weight="bold" text-anchor="end" fill="#111"  stroke="#111" stroke-width="0.14">1.80</text>
<line x1="23" y1="153.9" x2="24.8" y2="153.9" stroke="#848484" stroke-width="0.9"/>
<text x="21.7" y="156.008" font-family="Liberation Serif" font-size="6.2" font-weight="bold" text-anchor="end" fill="#111"  stroke="#111" stroke-width="0.14">1.65</text>
<line x1="23" y1="169" x2="24.8" y2="169" stroke="#848484" stroke-width="0.9"/>
<text x="21.7" y="171.108" font-family="Liberation Serif" font-size="6.2" font-weight="bold" text-anchor="end" fill="#111"  stroke="#111" stroke-width="0.14">1.50</text>
<line x1="23" y1="101.4" x2="24.8" y2="101.4" stroke="#848484" stroke-width="0.9"/>
<line x1="23" y1="116.4" x2="24.8" y2="116.4" stroke="#848484" stroke-width="0.9"/>
<line x1="23" y1="131.4" x2="24.8" y2="131.4" stroke="#848484" stroke-width="0.9"/>
<line x1="23" y1="146.4" x2="24.8" y2="146.4" stroke="#848484" stroke-width="0.9"/>
<line x1="23" y1="161.4" x2="24.8" y2="161.4" stroke="#848484" stroke-width="0.9"/>
<line x1="23.4" y1="174.2" x2="23.4" y2="172.39999999999998" stroke="#848484" stroke-width="0.9"/>
<text x="23.4" y="179.0" font-family="Liberation Serif" font-size="6.0" font-weight="bold" text-anchor="middle" fill="#111"  stroke="#111" stroke-width="0.14">520</text>
<line x1="54.2" y1="174.2" x2="54.2" y2="172.39999999999998" stroke="#848484" stroke-width="0.9"/>
<text x="54.2" y="179.0" font-family="Liberation Serif" font-size="6.0" font-weight="bold" text-anchor="middle" fill="#111"  stroke="#111" stroke-width="0.14">540</text>
<line x1="85" y1="174.2" x2="85" y2="172.39999999999998" stroke="#848484" stroke-width="0.9"/>
<text x="85" y="179.0" font-family="Liberation Serif" font-size="6.0" font-weight="bold" text-anchor="middle" fill="#111"  stroke="#111" stroke-width="0.14">560</text>
<line x1="115.8" y1="174.2" x2="115.8" y2="172.39999999999998" stroke="#848484" stroke-width="0.9"/>
<text x="115.8" y="179.0" font-family="Liberation Serif" font-size="6.0" font-weight="bold" text-anchor="middle" fill="#111"  stroke="#111" stroke-width="0.14">580</text>
<line x1="146.4" y1="174.2" x2="146.4" y2="172.39999999999998" stroke="#848484" stroke-width="0.9"/>
<text x="146.4" y="179.0" font-family="Liberation Serif" font-size="6.0" font-weight="bold" text-anchor="middle" fill="#111"  stroke="#111" stroke-width="0.14">600</text>
<line x1="38.8" y1="174.2" x2="38.8" y2="172.39999999999998" stroke="#848484" stroke-width="0.9"/>
<line x1="69.6" y1="174.2" x2="69.6" y2="172.39999999999998" stroke="#848484" stroke-width="0.9"/>
<line x1="100.4" y1="174.2" x2="100.4" y2="172.39999999999998" stroke="#848484" stroke-width="0.9"/>
<line x1="131.1" y1="174.2" x2="131.1" y2="172.39999999999998" stroke="#848484" stroke-width="0.9"/>
<text x="85.5" y="186.2" font-family="Liberation Serif" font-size="6.5" font-weight="bold" text-anchor="middle" fill="#111"  stroke="#111" stroke-width="0.14">T (K)</text>
<text x="0" y="0" transform="translate(6.574999999999999,144.5) rotate(-90)" font-family="Liberation Serif" font-size="6.5" font-weight="bold" fill="#111" stroke="#111" stroke-width="0.16" textLength="32.2" lengthAdjust="spacingAndGlyphs">ρ (10<tspan font-size="3.9" dy="-2">-5</tspan><tspan dy="2">Ω m)</tspan></text>
<line x1="22.9" y1="204.3" x2="24.7" y2="204.3" stroke="#848484" stroke-width="0.9"/>
<text x="21.599999999999998" y="206.40800000000002" font-family="Liberation Serif" font-size="6.2" font-weight="bold" text-anchor="end" fill="#111"  stroke="#111" stroke-width="0.14">1.8</text>
<line x1="22.9" y1="221" x2="24.7" y2="221" stroke="#848484" stroke-width="0.9"/>
<text x="21.599999999999998" y="223.108" font-family="Liberation Serif" font-size="6.2" font-weight="bold" text-anchor="end" fill="#111"  stroke="#111" stroke-width="0.14">1.7</text>
<line x1="22.9" y1="237.3" x2="24.7" y2="237.3" stroke="#848484" stroke-width="0.9"/>
<text x="21.599999999999998" y="239.40800000000002" font-family="Liberation Serif" font-size="6.2" font-weight="bold" text-anchor="end" fill="#111"  stroke="#111" stroke-width="0.14">1.6</text>
<line x1="22.9" y1="212.6" x2="24.7" y2="212.6" stroke="#848484" stroke-width="0.9"/>
<line x1="22.9" y1="229" x2="24.7" y2="229" stroke="#848484" stroke-width="0.9"/>
<line x1="22.9" y1="245.3" x2="24.7" y2="245.3" stroke="#848484" stroke-width="0.9"/>
<line x1="22.9" y1="196" x2="24.7" y2="196" stroke="#848484" stroke-width="0.9"/>
<line x1="35.4" y1="250.2" x2="35.4" y2="248.39999999999998" stroke="#848484" stroke-width="0.9"/>
<line x1="47.6" y1="250.2" x2="47.6" y2="248.39999999999998" stroke="#848484" stroke-width="0.9"/>
<line x1="60.2" y1="250.2" x2="60.2" y2="248.39999999999998" stroke="#848484" stroke-width="0.9"/>
<line x1="72.4" y1="250.2" x2="72.4" y2="248.39999999999998" stroke="#848484" stroke-width="0.9"/>
<line x1="84.5" y1="250.2" x2="84.5" y2="248.39999999999998" stroke="#848484" stroke-width="0.9"/>
<line x1="96.8" y1="250.2" x2="96.8" y2="248.39999999999998" stroke="#848484" stroke-width="0.9"/>
<line x1="109" y1="250.2" x2="109" y2="248.39999999999998" stroke="#848484" stroke-width="0.9"/>
<line x1="121.2" y1="250.2" x2="121.2" y2="248.39999999999998" stroke="#848484" stroke-width="0.9"/>
<line x1="133.4" y1="250.2" x2="133.4" y2="248.39999999999998" stroke="#848484" stroke-width="0.9"/>
<text x="0" y="0" transform="translate(9.575,239.9) rotate(-90)" font-family="Liberation Serif" font-size="6.5" font-weight="bold" fill="#111" stroke="#111" stroke-width="0.16" textLength="32.400000000000006" lengthAdjust="spacingAndGlyphs">ρ (10<tspan font-size="3.9" dy="-2">-5</tspan><tspan dy="2">Ω m)</tspan></text>
<line x1="173.1" y1="10.3" x2="174.9" y2="10.3" stroke="#848484" stroke-width="0.9"/>
<text x="171.79999999999998" y="12.34" font-family="Liberation Serif" font-size="6.0" font-weight="normal" text-anchor="end" fill="#111" font-style="italic" stroke="#111" stroke-width="0.14">-60</text>
<line x1="173.1" y1="24.5" x2="174.9" y2="24.5" stroke="#848484" stroke-width="0.9"/>
<text x="171.79999999999998" y="26.54" font-family="Liberation Serif" font-size="6.0" font-weight="normal" text-anchor="end" fill="#111" font-style="italic" stroke="#111" stroke-width="0.14">-65</text>
<line x1="173.1" y1="38.6" x2="174.9" y2="38.6" stroke="#848484" stroke-width="0.9"/>
<text x="171.79999999999998" y="40.64" font-family="Liberation Serif" font-size="6.0" font-weight="normal" text-anchor="end" fill="#111" font-style="italic" stroke="#111" stroke-width="0.14">-70</text>
<line x1="173.1" y1="52.7" x2="174.9" y2="52.7" stroke="#848484" stroke-width="0.9"/>
<text x="171.79999999999998" y="54.74" font-family="Liberation Serif" font-size="6.0" font-weight="normal" text-anchor="end" fill="#111" font-style="italic" stroke="#111" stroke-width="0.14">-75</text>
<line x1="173.1" y1="66.9" x2="174.9" y2="66.9" stroke="#848484" stroke-width="0.9"/>
<text x="171.79999999999998" y="68.94000000000001" font-family="Liberation Serif" font-size="6.0" font-weight="normal" text-anchor="end" fill="#111" font-style="italic" stroke="#111" stroke-width="0.14">-80</text>
<line x1="173.1" y1="3.2" x2="174.9" y2="3.2" stroke="#848484" stroke-width="0.9"/>
<line x1="173.1" y1="17.4" x2="174.9" y2="17.4" stroke="#848484" stroke-width="0.9"/>
<line x1="173.1" y1="31.5" x2="174.9" y2="31.5" stroke="#848484" stroke-width="0.9"/>
<line x1="173.1" y1="45.6" x2="174.9" y2="45.6" stroke="#848484" stroke-width="0.9"/>
<line x1="173.1" y1="59.8" x2="174.9" y2="59.8" stroke="#848484" stroke-width="0.9"/>
<line x1="188.6" y1="74.1" x2="188.6" y2="72.3" stroke="#848484" stroke-width="0.9"/>
<text x="188.6" y="79.69999999999999" font-family="Liberation Serif" font-size="6.0" font-weight="bold" text-anchor="middle" fill="#111"  stroke="#111" stroke-width="0.14">480</text>
<line x1="210.7" y1="74.1" x2="210.7" y2="72.3" stroke="#848484" stroke-width="0.9"/>
<text x="210.7" y="79.69999999999999" font-family="Liberation Serif" font-size="6.0" font-weight="bold" text-anchor="middle" fill="#111"  stroke="#111" stroke-width="0.14">510</text>
<line x1="232.8" y1="74.1" x2="232.8" y2="72.3" stroke="#848484" stroke-width="0.9"/>
<text x="232.8" y="79.69999999999999" font-family="Liberation Serif" font-size="6.0" font-weight="bold" text-anchor="middle" fill="#111"  stroke="#111" stroke-width="0.14">540</text>
<line x1="254.9" y1="74.1" x2="254.9" y2="72.3" stroke="#848484" stroke-width="0.9"/>
<text x="254.9" y="79.69999999999999" font-family="Liberation Serif" font-size="6.0" font-weight="bold" text-anchor="middle" fill="#111"  stroke="#111" stroke-width="0.14">570</text>
<line x1="277" y1="74.1" x2="277" y2="72.3" stroke="#848484" stroke-width="0.9"/>
<text x="277" y="79.69999999999999" font-family="Liberation Serif" font-size="6.0" font-weight="bold" text-anchor="middle" fill="#111"  stroke="#111" stroke-width="0.14">600</text>
<line x1="177.5" y1="74.1" x2="177.5" y2="72.3" stroke="#848484" stroke-width="0.9"/>
<line x1="199.6" y1="74.1" x2="199.6" y2="72.3" stroke="#848484" stroke-width="0.9"/>
<line x1="221.7" y1="74.1" x2="221.7" y2="72.3" stroke="#848484" stroke-width="0.9"/>
<line x1="243.8" y1="74.1" x2="243.8" y2="72.3" stroke="#848484" stroke-width="0.9"/>
<line x1="265.9" y1="74.1" x2="265.9" y2="72.3" stroke="#848484" stroke-width="0.9"/>
<line x1="288" y1="74.1" x2="288" y2="72.3" stroke="#848484" stroke-width="0.9"/>
<text x="234.4" y="85.4" font-family="Liberation Serif" font-size="6.5" font-weight="bold" text-anchor="middle" fill="#111"  stroke="#111" stroke-width="0.14">T (K)</text>
<text x="0" y="0" transform="translate(160.07500000000002,44) rotate(-90)" font-family="Liberation Serif" font-size="6.5" font-weight="bold" fill="#111" stroke="#111" stroke-width="0.16" textLength="25.3" lengthAdjust="spacingAndGlyphs">S (μV/K)</text>
<line x1="172.2" y1="98.9" x2="174.0" y2="98.9" stroke="#848484" stroke-width="0.9"/>
<text x="170.89999999999998" y="100.94000000000001" font-family="Liberation Serif" font-size="6.0" font-weight="normal" text-anchor="end" fill="#111" font-style="italic" stroke="#111" stroke-width="0.14">-60</text>
<line x1="172.2" y1="115.7" x2="174.0" y2="115.7" stroke="#848484" stroke-width="0.9"/>
<text x="170.89999999999998" y="117.74000000000001" font-family="Liberation Serif" font-size="6.0" font-weight="normal" text-anchor="end" fill="#111" font-style="italic" stroke="#111" stroke-width="0.14">-65</text>
<line x1="172.2" y1="132.4" x2="174.0" y2="132.4" stroke="#848484" stroke-width="0.9"/>
<text x="170.89999999999998" y="134.44" font-family="Liberation Serif" font-size="6.0" font-weight="normal" text-anchor="end" fill="#111" font-style="italic" stroke="#111" stroke-width="0.14">-70</text>
<line x1="172.2" y1="149" x2="174.0" y2="149" stroke="#848484" stroke-width="0.9"/>
<text x="170.89999999999998" y="151.04" font-family="Liberation Serif" font-size="6.0" font-weight="normal" text-anchor="end" fill="#111" font-style="italic" stroke="#111" stroke-width="0.14">-75</text>
<line x1="172.2" y1="165.5" x2="174.0" y2="165.5" stroke="#848484" stroke-width="0.9"/>
<text x="170.89999999999998" y="167.54" font-family="Liberation Serif" font-size="6.0" font-weight="normal" text-anchor="end" fill="#111" font-style="italic" stroke="#111" stroke-width="0.14">-80</text>
<line x1="172.2" y1="107.3" x2="174.0" y2="107.3" stroke="#848484" stroke-width="0.9"/>
<line x1="172.2" y1="124" x2="174.0" y2="124" stroke="#848484" stroke-width="0.9"/>
<line x1="172.2" y1="140.7" x2="174.0" y2="140.7" stroke="#848484" stroke-width="0.9"/>
<line x1="172.2" y1="157.3" x2="174.0" y2="157.3" stroke="#848484" stroke-width="0.9"/>
<line x1="172.4" y1="173.3" x2="172.4" y2="171.5" stroke="#848484" stroke-width="0.9"/>
<text x="172.4" y="178.4" font-family="Liberation Serif" font-size="6.0" font-weight="bold" text-anchor="middle" fill="#111"  stroke="#111" stroke-width="0.14">520</text>
<line x1="202.6" y1="173.3" x2="202.6" y2="171.5" stroke="#848484" stroke-width="0.9"/>
<text x="202.6" y="178.4" font-family="Liberation Serif" font-size="6.0" font-weight="bold" text-anchor="middle" fill="#111"  stroke="#111" stroke-width="0.14">540</text>
<line x1="232.9" y1="173.3" x2="232.9" y2="171.5" stroke="#848484" stroke-width="0.9"/>
<text x="232.9" y="178.4" font-family="Liberation Serif" font-size="6.0" font-weight="bold" text-anchor="middle" fill="#111"  stroke="#111" stroke-width="0.14">560</text>
<line x1="263.1" y1="173.3" x2="263.1" y2="171.5" stroke="#848484" stroke-width="0.9"/>
<text x="263.1" y="178.4" font-family="Liberation Serif" font-size="6.0" font-weight="bold" text-anchor="middle" fill="#111"  stroke="#111" stroke-width="0.14">580</text>
<line x1="293.4" y1="173.3" x2="293.4" y2="171.5" stroke="#848484" stroke-width="0.9"/>
<text x="293.4" y="178.4" font-family="Liberation Serif" font-size="6.0" font-weight="bold" text-anchor="middle" fill="#111"  stroke="#111" stroke-width="0.14">600</text>
<line x1="187.5" y1="173.3" x2="187.5" y2="171.5" stroke="#848484" stroke-width="0.9"/>
<line x1="217.7" y1="173.3" x2="217.7" y2="171.5" stroke="#848484" stroke-width="0.9"/>
<line x1="248" y1="173.3" x2="248" y2="171.5" stroke="#848484" stroke-width="0.9"/>
<line x1="278.2" y1="173.3" x2="278.2" y2="171.5" stroke="#848484" stroke-width="0.9"/>
<text x="233.6" y="185" font-family="Liberation Serif" font-size="6.5" font-weight="bold" text-anchor="middle" fill="#111"  stroke="#111" stroke-width="0.14">T (K)</text>
<text x="0" y="0" transform="translate(159.475,145) rotate(-90)" font-family="Liberation Serif" font-size="6.5" font-weight="bold" fill="#111" stroke="#111" stroke-width="0.16" textLength="25.799999999999997" lengthAdjust="spacingAndGlyphs">S (μV/K)</text>
<line x1="172" y1="194.4" x2="173.8" y2="194.4" stroke="#848484" stroke-width="0.9"/>
<text x="170.7" y="196.44" font-family="Liberation Serif" font-size="6.0" font-weight="normal" text-anchor="end" fill="#111" font-style="italic" stroke="#111" stroke-width="0.14">-63</text>
<line x1="172" y1="211" x2="173.8" y2="211" stroke="#848484" stroke-width="0.9"/>
<text x="170.7" y="213.04" font-family="Liberation Serif" font-size="6.0" font-weight="normal" text-anchor="end" fill="#111" font-style="italic" stroke="#111" stroke-width="0.14">-66</text>
<line x1="172" y1="227.5" x2="173.8" y2="227.5" stroke="#848484" stroke-width="0.9"/>
<text x="170.7" y="229.54" font-family="Liberation Serif" font-size="6.0" font-weight="normal" text-anchor="end" fill="#111" font-style="italic" stroke="#111" stroke-width="0.14">-69</text>
<line x1="172" y1="243.8" x2="173.8" y2="243.8" stroke="#848484" stroke-width="0.9"/>
<text x="170.7" y="245.84" font-family="Liberation Serif" font-size="6.0" font-weight="normal" text-anchor="end" fill="#111" font-style="italic" stroke="#111" stroke-width="0.14">-72</text>
<line x1="172" y1="202.7" x2="173.8" y2="202.7" stroke="#848484" stroke-width="0.9"/>
<line x1="172" y1="219.2" x2="173.8" y2="219.2" stroke="#848484" stroke-width="0.9"/>
<line x1="172" y1="235.6" x2="173.8" y2="235.6" stroke="#848484" stroke-width="0.9"/>
<line x1="184.3" y1="250" x2="184.3" y2="248.2" stroke="#848484" stroke-width="0.9"/>
<line x1="208.7" y1="250" x2="208.7" y2="248.2" stroke="#848484" stroke-width="0.9"/>
<line x1="232.8" y1="250" x2="232.8" y2="248.2" stroke="#848484" stroke-width="0.9"/>
<line x1="256.9" y1="250" x2="256.9" y2="248.2" stroke="#848484" stroke-width="0.9"/>
<line x1="281.5" y1="250" x2="281.5" y2="248.2" stroke="#848484" stroke-width="0.9"/>
<text x="172" y="255.9" font-family="Liberation Serif" font-size="6.0" font-weight="bold" text-anchor="middle" fill="#111"  stroke="#111" stroke-width="0.14">520</text>
<text x="196.5" y="255.9" font-family="Liberation Serif" font-size="6.0" font-weight="bold" text-anchor="middle" fill="#111"  stroke="#111" stroke-width="0.14">530</text>
<text x="221" y="255.9" font-family="Liberation Serif" font-size="6.0" font-weight="bold" text-anchor="middle" fill="#111"  stroke="#111" stroke-width="0.14">540</text>
<text x="245" y="255.9" font-family="Liberation Serif" font-size="6.0" font-weight="bold" text-anchor="middle" fill="#111"  stroke="#111" stroke-width="0.14">550</text>
<text x="270.5" y="255.9" font-family="Liberation Serif" font-size="6.0" font-weight="bold" text-anchor="middle" fill="#111"  stroke="#111" stroke-width="0.14">560</text>
<text x="293" y="255.9" font-family="Liberation Serif" font-size="6.0" font-weight="bold" text-anchor="middle" fill="#111"  stroke="#111" stroke-width="0.14">570</text>
<text x="0" y="0" transform="translate(158.975,233.5) rotate(-90)" font-family="Liberation Serif" font-size="6.5" font-weight="bold" fill="#111" stroke="#111" stroke-width="0.16" textLength="26.0" lengthAdjust="spacingAndGlyphs">S (μV/K)</text>
<line x1="321.4" y1="15.3" x2="323.2" y2="15.3" stroke="#848484" stroke-width="0.9"/>
<text x="320.09999999999997" y="17.408" font-family="Liberation Serif" font-size="6.2" font-weight="bold" text-anchor="end" fill="#111"  stroke="#111" stroke-width="0.14">2.7</text>
<line x1="321.4" y1="34.9" x2="323.2" y2="34.9" stroke="#848484" stroke-width="0.9"/>
<text x="320.09999999999997" y="37.007999999999996" font-family="Liberation Serif" font-size="6.2" font-weight="bold" text-anchor="end" fill="#111"  stroke="#111" stroke-width="0.14">2.4</text>
<line x1="321.4" y1="54.6" x2="323.2" y2="54.6" stroke="#848484" stroke-width="0.9"/>
<text x="320.09999999999997" y="56.708" font-family="Liberation Serif" font-size="6.2" font-weight="bold" text-anchor="end" fill="#111"  stroke="#111" stroke-width="0.14">2.1</text>
<line x1="321.4" y1="74.2" x2="323.2" y2="74.2" stroke="#848484" stroke-width="0.9"/>
<text x="320.09999999999997" y="76.308" font-family="Liberation Serif" font-size="6.2" font-weight="bold" text-anchor="end" fill="#111"  stroke="#111" stroke-width="0.14">1.8</text>
<line x1="321.4" y1="5.5" x2="323.2" y2="5.5" stroke="#848484" stroke-width="0.9"/>
<line x1="321.4" y1="25.1" x2="323.2" y2="25.1" stroke="#848484" stroke-width="0.9"/>
<line x1="321.4" y1="44.7" x2="323.2" y2="44.7" stroke="#848484" stroke-width="0.9"/>
<line x1="321.4" y1="64.4" x2="323.2" y2="64.4" stroke="#848484" stroke-width="0.9"/>
<line x1="336.6" y1="74.1" x2="336.6" y2="72.3" stroke="#848484" stroke-width="0.9"/>
<text x="336.6" y="79.6" font-family="Liberation Serif" font-size="6.0" font-weight="bold" text-anchor="middle" fill="#111"  stroke="#111" stroke-width="0.14">480</text>
<line x1="359.1" y1="74.1" x2="359.1" y2="72.3" stroke="#848484" stroke-width="0.9"/>
<text x="359.1" y="79.6" font-family="Liberation Serif" font-size="6.0" font-weight="bold" text-anchor="middle" fill="#111"  stroke="#111" stroke-width="0.14">510</text>
<line x1="381.7" y1="74.1" x2="381.7" y2="72.3" stroke="#848484" stroke-width="0.9"/>
<text x="381.7" y="79.6" font-family="Liberation Serif" font-size="6.0" font-weight="bold" text-anchor="middle" fill="#111"  stroke="#111" stroke-width="0.14">540</text>
<line x1="404.3" y1="74.1" x2="404.3" y2="72.3" stroke="#848484" stroke-width="0.9"/>
<text x="404.3" y="79.6" font-family="Liberation Serif" font-size="6.0" font-weight="bold" text-anchor="middle" fill="#111"  stroke="#111" stroke-width="0.14">570</text>
<line x1="426.8" y1="74.1" x2="426.8" y2="72.3" stroke="#848484" stroke-width="0.9"/>
<text x="426.8" y="79.6" font-family="Liberation Serif" font-size="6.0" font-weight="bold" text-anchor="middle" fill="#111"  stroke="#111" stroke-width="0.14">600</text>
<line x1="325.3" y1="74.1" x2="325.3" y2="72.3" stroke="#848484" stroke-width="0.9"/>
<line x1="347.8" y1="74.1" x2="347.8" y2="72.3" stroke="#848484" stroke-width="0.9"/>
<line x1="370.4" y1="74.1" x2="370.4" y2="72.3" stroke="#848484" stroke-width="0.9"/>
<line x1="393" y1="74.1" x2="393" y2="72.3" stroke="#848484" stroke-width="0.9"/>
<line x1="415.5" y1="74.1" x2="415.5" y2="72.3" stroke="#848484" stroke-width="0.9"/>
<line x1="438.1" y1="74.1" x2="438.1" y2="72.3" stroke="#848484" stroke-width="0.9"/>
<text x="379.9" y="85.4" font-family="Liberation Serif" font-size="6.5" font-weight="bold" text-anchor="middle" fill="#111"  stroke="#111" stroke-width="0.14">T (K)</text>
<text x="0" y="0" transform="translate(308.775,53) rotate(-90)" font-family="Liberation Serif" font-size="6.5" font-weight="bold" fill="#111" stroke="#111" stroke-width="0.16" textLength="45.3" lengthAdjust="spacingAndGlyphs">PF (10<tspan font-size="3.9" dy="-2">-4</tspan><tspan dy="2">W/mK</tspan><tspan font-size="3.9" dy="-2">2</tspan><tspan dy="2">)</tspan></text>
<line x1="322.4" y1="94.8" x2="324.2" y2="94.8" stroke="#848484" stroke-width="0.9"/>
<text x="321.09999999999997" y="96.908" font-family="Liberation Serif" font-size="6.2" font-weight="bold" text-anchor="end" fill="#111"  stroke="#111" stroke-width="0.14">3.0</text>
<line x1="322.4" y1="117.2" x2="324.2" y2="117.2" stroke="#848484" stroke-width="0.9"/>
<text x="321.09999999999997" y="119.308" font-family="Liberation Serif" font-size="6.2" font-weight="bold" text-anchor="end" fill="#111"  stroke="#111" stroke-width="0.14">2.8</text>
<line x1="322.4" y1="139.7" x2="324.2" y2="139.7" stroke="#848484" stroke-width="0.9"/>
<text x="321.09999999999997" y="141.808" font-family="Liberation Serif" font-size="6.2" font-weight="bold" text-anchor="end" fill="#111"  stroke="#111" stroke-width="0.14">2.6</text>
<line x1="322.4" y1="162.2" x2="324.2" y2="162.2" stroke="#848484" stroke-width="0.9"/>
<text x="321.09999999999997" y="164.308" font-family="Liberation Serif" font-size="6.2" font-weight="bold" text-anchor="end" fill="#111"  stroke="#111" stroke-width="0.14">2.4</text>
<line x1="322.4" y1="106" x2="324.2" y2="106" stroke="#848484" stroke-width="0.9"/>
<line x1="322.4" y1="128.4" x2="324.2" y2="128.4" stroke="#848484" stroke-width="0.9"/>
<line x1="322.4" y1="151" x2="324.2" y2="151" stroke="#848484" stroke-width="0.9"/>
<line x1="322.4" y1="173" x2="324.2" y2="173" stroke="#848484" stroke-width="0.9"/>
<line x1="322.3" y1="172.7" x2="322.3" y2="170.89999999999998" stroke="#848484" stroke-width="0.9"/>
<text x="322.3" y="178.39999999999998" font-family="Liberation Serif" font-size="6.0" font-weight="bold" text-anchor="middle" fill="#111"  stroke="#111" stroke-width="0.14">520</text>
<line x1="352.3" y1="172.7" x2="352.3" y2="170.89999999999998" stroke="#848484" stroke-width="0.9"/>
<text x="352.3" y="178.39999999999998" font-family="Liberation Serif" font-size="6.0" font-weight="bold" text-anchor="middle" fill="#111"  stroke="#111" stroke-width="0.14">540</text>
<line x1="382.3" y1="172.7" x2="382.3" y2="170.89999999999998" stroke="#848484" stroke-width="0.9"/>
<text x="382.3" y="178.39999999999998" font-family="Liberation Serif" font-size="6.0" font-weight="bold" text-anchor="middle" fill="#111"  stroke="#111" stroke-width="0.14">560</text>
<line x1="412.3" y1="172.7" x2="412.3" y2="170.89999999999998" stroke="#848484" stroke-width="0.9"/>
<text x="412.3" y="178.39999999999998" font-family="Liberation Serif" font-size="6.0" font-weight="bold" text-anchor="middle" fill="#111"  stroke="#111" stroke-width="0.14">580</text>
<line x1="442.3" y1="172.7" x2="442.3" y2="170.89999999999998" stroke="#848484" stroke-width="0.9"/>
<text x="442.3" y="178.39999999999998" font-family="Liberation Serif" font-size="6.0" font-weight="bold" text-anchor="middle" fill="#111"  stroke="#111" stroke-width="0.14">600</text>
<line x1="337.3" y1="172.7" x2="337.3" y2="170.89999999999998" stroke="#848484" stroke-width="0.9"/>
<line x1="367.3" y1="172.7" x2="367.3" y2="170.89999999999998" stroke="#848484" stroke-width="0.9"/>
<line x1="397.3" y1="172.7" x2="397.3" y2="170.89999999999998" stroke="#848484" stroke-width="0.9"/>
<line x1="427.3" y1="172.7" x2="427.3" y2="170.89999999999998" stroke="#848484" stroke-width="0.9"/>
<text x="382" y="184.6" font-family="Liberation Serif" font-size="6.5" font-weight="bold" text-anchor="middle" fill="#111"  stroke="#111" stroke-width="0.14">T (K)</text>
<text x="0" y="0" transform="translate(309.775,150.8) rotate(-90)" font-family="Liberation Serif" font-size="6.5" font-weight="bold" fill="#111" stroke="#111" stroke-width="0.16" textLength="44.20000000000002" lengthAdjust="spacingAndGlyphs">PF (10<tspan font-size="3.9" dy="-2">-4</tspan><tspan dy="2">W/mK</tspan><tspan font-size="3.9" dy="-2">2</tspan><tspan dy="2">)</tspan></text>
<line x1="322.8" y1="196.9" x2="324.6" y2="196.9" stroke="#848484" stroke-width="0.9"/>
<text x="322.3" y="199.008" font-family="Liberation Serif" font-size="6.2" font-weight="bold" text-anchor="end" fill="#111"  stroke="#111" stroke-width="0.14">2.85</text>
<line x1="322.8" y1="219.5" x2="324.6" y2="219.5" stroke="#848484" stroke-width="0.9"/>
<text x="322.3" y="221.608" font-family="Liberation Serif" font-size="6.2" font-weight="bold" text-anchor="end" fill="#111"  stroke="#111" stroke-width="0.14">2.70</text>
<line x1="322.8" y1="241.7" x2="324.6" y2="241.7" stroke="#848484" stroke-width="0.9"/>
<text x="322.3" y="243.808" font-family="Liberation Serif" font-size="6.2" font-weight="bold" text-anchor="end" fill="#111"  stroke="#111" stroke-width="0.14">2.55</text>
<line x1="322.8" y1="208.2" x2="324.6" y2="208.2" stroke="#848484" stroke-width="0.9"/>
<line x1="322.8" y1="230.6" x2="324.6" y2="230.6" stroke="#848484" stroke-width="0.9"/>
<line x1="335" y1="249.4" x2="335" y2="247.6" stroke="#848484" stroke-width="0.9"/>
<line x1="359" y1="249.4" x2="359" y2="247.6" stroke="#848484" stroke-width="0.9"/>
<line x1="383" y1="249.4" x2="383" y2="247.6" stroke="#848484" stroke-width="0.9"/>
<line x1="407.3" y1="249.4" x2="407.3" y2="247.6" stroke="#848484" stroke-width="0.9"/>
<line x1="431.4" y1="249.4" x2="431.4" y2="247.6" stroke="#848484" stroke-width="0.9"/>
<text x="323.5" y="255.4" font-family="Liberation Serif" font-size="6.0" font-weight="bold" text-anchor="middle" fill="#111"  stroke="#111" stroke-width="0.14">520</text>
<text x="347" y="255.4" font-family="Liberation Serif" font-size="6.0" font-weight="bold" text-anchor="middle" fill="#111"  stroke="#111" stroke-width="0.14">530</text>
<text x="371" y="255.4" font-family="Liberation Serif" font-size="6.0" font-weight="bold" text-anchor="middle" fill="#111"  stroke="#111" stroke-width="0.14">540</text>
<text x="395" y="255.4" font-family="Liberation Serif" font-size="6.0" font-weight="bold" text-anchor="middle" fill="#111"  stroke="#111" stroke-width="0.14">550</text>
<text x="419.7" y="255.4" font-family="Liberation Serif" font-size="6.0" font-weight="bold" text-anchor="middle" fill="#111"  stroke="#111" stroke-width="0.14">560</text>
<text x="444" y="255.4" font-family="Liberation Serif" font-size="6.0" font-weight="bold" text-anchor="middle" fill="#111"  stroke="#111" stroke-width="0.14">570</text>
<text x="0" y="0" transform="translate(308.075,242.2) rotate(-90)" font-family="Liberation Serif" font-size="6.5" font-weight="bold" fill="#111" stroke="#111" stroke-width="0.16" textLength="44.19999999999999" lengthAdjust="spacingAndGlyphs">PF (10<tspan font-size="3.9" dy="-2">-4</tspan><tspan dy="2">W/mK</tspan><tspan font-size="3.9" dy="-2">2</tspan><tspan dy="2">)</tspan></text>
<line x1="24.6" y1="-7.4" x2="32.5" y2="-7.4" stroke="#484848" stroke-width="1.2" opacity="0.7"/>
<rect x="27.400000000000002" y="-8.55" width="2.3" height="2.3" fill="#1a1a1a"/>
<text x="33.8" y="-5.924" font-family="Liberation Serif" font-size="4.1" font-weight="bold" text-anchor="start" fill="#000" stroke="#000" stroke-width="0.12" textLength="13.5" lengthAdjust="spacingAndGlyphs">0.8 GPa</text>
<line x1="24.6" y1="-2.3" x2="32.5" y2="-2.3" stroke="#f46060" stroke-width="1.2" opacity="0.7"/>
<circle cx="28.55" cy="-2.3" r="1.15" fill="#f02828"/>
<text x="33.8" y="-0.8240000000000001" font-family="Liberation Serif" font-size="4.1" font-weight="bold" text-anchor="start" fill="#000" stroke="#000" stroke-width="0.12" textLength="13.5" lengthAdjust="spacingAndGlyphs">0.9 GPa</text>
<line x1="24.6" y1="3.3" x2="32.5" y2="3.3" stroke="#4a84ec" stroke-width="1.2" opacity="0.7"/>
<polygon points="28.55,1.8624999999999998 29.915625000000002,4.1625 27.184375,4.1625" fill="#1f5fe0"/>
<text x="33.8" y="4.776" font-family="Liberation Serif" font-size="4.1" font-weight="bold" text-anchor="start" fill="#000" stroke="#000" stroke-width="0.12" textLength="13.5" lengthAdjust="spacingAndGlyphs">1.1 GPa</text>
<line x1="24.6" y1="8.3" x2="32.5" y2="8.3" stroke="#4cb676" stroke-width="1.2" opacity="0.7"/>
<polygon points="28.55,9.7375 29.915625000000002,7.437500000000001 27.184375,7.437500000000001" fill="#1e9e52"/>
<text x="33.8" y="9.776" font-family="Liberation Serif" font-size="4.1" font-weight="bold" text-anchor="start" fill="#000" stroke="#000" stroke-width="0.12" textLength="13.5" lengthAdjust="spacingAndGlyphs">1.5 GPa</text>
<line x1="24.6" y1="13.3" x2="32.5" y2="13.3" stroke="#bc78f0" stroke-width="1.2" opacity="0.7"/>
<polygon points="28.55,11.920000000000002 29.93,13.3 28.55,14.68 27.17,13.3" fill="#a040ea"/>
<text x="33.8" y="14.776" font-family="Liberation Serif" font-size="4.1" font-weight="bold" text-anchor="start" fill="#000" stroke="#000" stroke-width="0.12" textLength="13.5" lengthAdjust="spacingAndGlyphs">1.8 GPa</text>
<line x1="24.6" y1="18.1" x2="32.5" y2="18.1" stroke="#e6b048" stroke-width="1.2" opacity="0.7"/>
<circle cx="28.55" cy="18.1" r="1.15" fill="#dc9a1c"/>
<text x="33.8" y="19.576" font-family="Liberation Serif" font-size="4.1" font-weight="bold" text-anchor="start" fill="#000" stroke="#000" stroke-width="0.12" textLength="13.5" lengthAdjust="spacingAndGlyphs">2.2 GPa</text>
<line x1="174.8" y1="43.8" x2="181.9" y2="43.8" stroke="#484848" stroke-width="1.2" opacity="0.7"/>
<rect x="177.20000000000002" y="42.65" width="2.3" height="2.3" fill="#1a1a1a"/>
<text x="182.8" y="45.275999999999996" font-family="Liberation Serif" font-size="4.1" font-weight="bold" text-anchor="start" fill="#000" stroke="#000" stroke-width="0.12" textLength="13.3" lengthAdjust="spacingAndGlyphs">0.8 GPa</text>
<line x1="174.8" y1="49.1" x2="181.9" y2="49.1" stroke="#f46060" stroke-width="1.2" opacity="0.7"/>
<circle cx="178.35000000000002" cy="49.1" r="1.15" fill="#f02828"/>
<text x="182.8" y="50.576" font-family="Liberation Serif" font-size="4.1" font-weight="bold" text-anchor="start" fill="#000" stroke="#000" stroke-width="0.12" textLength="13.3" lengthAdjust="spacingAndGlyphs">0.9 GPa</text>
<line x1="174.8" y1="53.7" x2="181.9" y2="53.7" stroke="#4a84ec" stroke-width="1.2" opacity="0.7"/>
<polygon points="178.35000000000002,52.2625 179.71562500000002,54.5625 176.98437500000003,54.5625" fill="#1f5fe0"/>
<text x="182.8" y="55.176" font-family="Liberation Serif" font-size="4.1" font-weight="bold" text-anchor="start" fill="#000" stroke="#000" stroke-width="0.12" textLength="13.3" lengthAdjust="spacingAndGlyphs">1.1 GPa</text>
<line x1="174.8" y1="59" x2="181.9" y2="59" stroke="#4cb676" stroke-width="1.2" opacity="0.7"/>
<polygon points="178.35000000000002,60.4375 179.71562500000002,58.1375 176.98437500000003,58.1375" fill="#1e9e52"/>
<text x="182.8" y="60.476" font-family="Liberation Serif" font-size="4.1" font-weight="bold" text-anchor="start" fill="#000" stroke="#000" stroke-width="0.12" textLength="13.3" lengthAdjust="spacingAndGlyphs">1.5 GPa</text>
<line x1="174.8" y1="63.9" x2="181.9" y2="63.9" stroke="#bc78f0" stroke-width="1.2" opacity="0.7"/>
<polygon points="178.35000000000002,62.519999999999996 179.73000000000002,63.9 178.35000000000002,65.28 176.97000000000003,63.9" fill="#a040ea"/>
<text x="182.8" y="65.376" font-family="Liberation Serif" font-size="4.1" font-weight="bold" text-anchor="start" fill="#000" stroke="#000" stroke-width="0.12" textLength="13.3" lengthAdjust="spacingAndGlyphs">1.8 GPa</text>
<line x1="174.8" y1="69" x2="181.9" y2="69" stroke="#e6b048" stroke-width="1.2" opacity="0.7"/>
<circle cx="178.35000000000002" cy="69" r="1.15" fill="#dc9a1c"/>
<text x="182.8" y="70.476" font-family="Liberation Serif" font-size="4.1" font-weight="bold" text-anchor="start" fill="#000" stroke="#000" stroke-width="0.12" textLength="13.3" lengthAdjust="spacingAndGlyphs">2.2 GPa</text>
<line x1="323.4" y1="-7.6" x2="329.2" y2="-7.6" stroke="#484848" stroke-width="1.2" opacity="0.7"/>
<rect x="325.15" y="-8.75" width="2.3" height="2.3" fill="#1a1a1a"/>
<text x="330.59999999999997" y="-6.124" font-family="Liberation Serif" font-size="4.1" font-weight="bold" text-anchor="start" fill="#000" stroke="#000" stroke-width="0.12" textLength="13.7" lengthAdjust="spacingAndGlyphs">0.8 GPa</text>
<line x1="323.4" y1="-2.5" x2="329.2" y2="-2.5" stroke="#f46060" stroke-width="1.2" opacity="0.7"/>
<circle cx="326.29999999999995" cy="-2.5" r="1.15" fill="#f02828"/>
<text x="330.59999999999997" y="-1.0240000000000002" font-family="Liberation Serif" font-size="4.1" font-weight="bold" text-anchor="start" fill="#000" stroke="#000" stroke-width="0.12" textLength="13.7" lengthAdjust="spacingAndGlyphs">0.9 GPa</text>
<line x1="323.4" y1="2.6" x2="329.2" y2="2.6" stroke="#4a84ec" stroke-width="1.2" opacity="0.7"/>
<polygon points="326.29999999999995,1.1625 327.665625,3.4625 324.93437499999993,3.4625" fill="#1f5fe0"/>
<text x="330.59999999999997" y="4.076" font-family="Liberation Serif" font-size="4.1" font-weight="bold" text-anchor="start" fill="#000" stroke="#000" stroke-width="0.12" textLength="13.7" lengthAdjust="spacingAndGlyphs">1.1 GPa</text>
<line x1="323.4" y1="7.4" x2="329.2" y2="7.4" stroke="#4cb676" stroke-width="1.2" opacity="0.7"/>
<polygon points="326.29999999999995,8.8375 327.665625,6.5375000000000005 324.93437499999993,6.5375000000000005" fill="#1e9e52"/>
<text x="330.59999999999997" y="8.876" font-family="Liberation Serif" font-size="4.1" font-weight="bold" text-anchor="start" fill="#000" stroke="#000" stroke-width="0.12" textLength="13.7" lengthAdjust="spacingAndGlyphs">1.5 GPa</text>
<line x1="323.4" y1="12.8" x2="329.2" y2="12.8" stroke="#bc78f0" stroke-width="1.2" opacity="0.7"/>
<polygon points="326.29999999999995,11.420000000000002 327.67999999999995,12.8 326.29999999999995,14.18 324.91999999999996,12.8" fill="#a040ea"/>
<text x="330.59999999999997" y="14.276" font-family="Liberation Serif" font-size="4.1" font-weight="bold" text-anchor="start" fill="#000" stroke="#000" stroke-width="0.12" textLength="13.7" lengthAdjust="spacingAndGlyphs">1.8 GPa</text>
<line x1="323.4" y1="18.1" x2="329.2" y2="18.1" stroke="#e6b048" stroke-width="1.2" opacity="0.7"/>
<circle cx="326.29999999999995" cy="18.1" r="1.15" fill="#dc9a1c"/>
<text x="330.59999999999997" y="19.576" font-family="Liberation Serif" font-size="4.1" font-weight="bold" text-anchor="start" fill="#000" stroke="#000" stroke-width="0.12" textLength="13.7" lengthAdjust="spacingAndGlyphs">2.2 GPa</text>
<line x1="24.1" y1="151.2" x2="32.0" y2="151.2" stroke="#38d0d8" stroke-width="1.2" opacity="0.7"/>
<rect x="26.900000000000002" y="150.04999999999998" width="2.3" height="2.3" fill="#12c4cc"/>
<text x="33.0" y="152.676" font-family="Liberation Serif" font-size="4.1" font-weight="bold" text-anchor="start" fill="#000" stroke="#000" stroke-width="0.12" textLength="14" lengthAdjust="spacingAndGlyphs">2.5 GPa</text>
<line x1="24.1" y1="156.1" x2="32.0" y2="156.1" stroke="#b07a7a" stroke-width="1.2" opacity="0.7"/>
<polygon points="28.05,154.72 29.43,156.1 28.05,157.48 26.67,156.1" fill="#501010"/>
<text x="33.0" y="157.576" font-family="Liberation Serif" font-size="4.1" font-weight="bold" text-anchor="start" fill="#000" stroke="#000" stroke-width="0.12" textLength="14" lengthAdjust="spacingAndGlyphs">3.0 GPa</text>
<line x1="24.1" y1="161.1" x2="32.0" y2="161.1" stroke="#a2aa48" stroke-width="1.2" opacity="0.7"/>
<rect x="26.900000000000002" y="159.95" width="2.3" height="2.3" fill="#7e8a18"/>
<text x="33.0" y="162.576" font-family="Liberation Serif" font-size="4.1" font-weight="bold" text-anchor="start" fill="#000" stroke="#000" stroke-width="0.12" textLength="14" lengthAdjust="spacingAndGlyphs">3.3 GPa</text>
<line x1="24.1" y1="166.3" x2="32.0" y2="166.3" stroke="#ff7a52" stroke-width="1.2" opacity="0.7"/>
<circle cx="28.05" cy="166.3" r="1.15" fill="#ff5422"/>
<text x="33.0" y="167.776" font-family="Liberation Serif" font-size="4.1" font-weight="bold" text-anchor="start" fill="#000" stroke="#000" stroke-width="0.12" textLength="14" lengthAdjust="spacingAndGlyphs">3.9 GPa</text>
<line x1="173.6" y1="92.6" x2="180.9" y2="92.6" stroke="#38d0d8" stroke-width="1.2" opacity="0.7"/>
<rect x="176.1" y="91.44999999999999" width="2.3" height="2.3" fill="#12c4cc"/>
<text x="181.79999999999998" y="94.148" font-family="Liberation Serif" font-size="4.3" font-weight="bold" text-anchor="start" fill="#000" stroke="#000" stroke-width="0.12" textLength="14.5" lengthAdjust="spacingAndGlyphs">2.5 GPa</text>
<line x1="173.6" y1="97.8" x2="180.9" y2="97.8" stroke="#b07a7a" stroke-width="1.2" opacity="0.7"/>
<polygon points="177.25,96.42 178.63,97.8 177.25,99.17999999999999 175.87,97.8" fill="#501010"/>
<text x="181.79999999999998" y="99.348" font-family="Liberation Serif" font-size="4.3" font-weight="bold" text-anchor="start" fill="#000" stroke="#000" stroke-width="0.12" textLength="14.5" lengthAdjust="spacingAndGlyphs">3.0 GPa</text>
<line x1="173.6" y1="103" x2="180.9" y2="103" stroke="#a2aa48" stroke-width="1.2" opacity="0.7"/>
<rect x="176.1" y="101.85" width="2.3" height="2.3" fill="#7e8a18"/>
<text x="181.79999999999998" y="104.548" font-family="Liberation Serif" font-size="4.3" font-weight="bold" text-anchor="start" fill="#000" stroke="#000" stroke-width="0.12" textLength="14.5" lengthAdjust="spacingAndGlyphs">3.3 GPa</text>
<line x1="173.6" y1="108.3" x2="180.9" y2="108.3" stroke="#ff7a52" stroke-width="1.2" opacity="0.7"/>
<circle cx="177.25" cy="108.3" r="1.15" fill="#ff5422"/>
<text x="181.79999999999998" y="109.848" font-family="Liberation Serif" font-size="4.3" font-weight="bold" text-anchor="start" fill="#000" stroke="#000" stroke-width="0.12" textLength="14.5" lengthAdjust="spacingAndGlyphs">3.9 GPa</text>
<line x1="323.4" y1="151.2" x2="331.5" y2="151.2" stroke="#38d0d8" stroke-width="1.2" opacity="0.7"/>
<rect x="326.3" y="150.04999999999998" width="2.3" height="2.3" fill="#12c4cc"/>
<text x="332.0" y="152.748" font-family="Liberation Serif" font-size="4.3" font-weight="bold" text-anchor="start" fill="#000" stroke="#000" stroke-width="0.12" textLength="15" lengthAdjust="spacingAndGlyphs">2.5 GPa</text>
<line x1="323.4" y1="156.7" x2="331.5" y2="156.7" stroke="#b07a7a" stroke-width="1.2" opacity="0.7"/>
<polygon points="327.45,155.32 328.83,156.7 327.45,158.07999999999998 326.07,156.7" fill="#501010"/>
<text x="332.0" y="158.248" font-family="Liberation Serif" font-size="4.3" font-weight="bold" text-anchor="start" fill="#000" stroke="#000" stroke-width="0.12" textLength="15" lengthAdjust="spacingAndGlyphs">3.0 GPa</text>
<line x1="323.4" y1="161.7" x2="331.5" y2="161.7" stroke="#a2aa48" stroke-width="1.2" opacity="0.7"/>
<rect x="326.3" y="160.54999999999998" width="2.3" height="2.3" fill="#7e8a18"/>
<text x="332.0" y="163.248" font-family="Liberation Serif" font-size="4.3" font-weight="bold" text-anchor="start" fill="#000" stroke="#000" stroke-width="0.12" textLength="15" lengthAdjust="spacingAndGlyphs">3.3 GPa</text>
<line x1="323.4" y1="166.8" x2="331.5" y2="166.8" stroke="#ff7a52" stroke-width="1.2" opacity="0.7"/>
<circle cx="327.45" cy="166.8" r="1.15" fill="#ff5422"/>
<text x="332.0" y="168.348" font-family="Liberation Serif" font-size="4.3" font-weight="bold" text-anchor="start" fill="#000" stroke="#000" stroke-width="0.12" textLength="15" lengthAdjust="spacingAndGlyphs">3.9 GPa</text>
<line x1="23.8" y1="192.4" x2="30.200000000000003" y2="192.4" stroke="#86b6ea" stroke-width="1.2" opacity="0.7"/>
<polygon points="27.0,191.02 28.38,192.4 27.0,193.78 25.62,192.4" fill="#3a86dc"/>
<text x="31.700000000000003" y="193.876" font-family="Liberation Serif" font-size="4.1" font-weight="bold" text-anchor="start" fill="#000" stroke="#000" stroke-width="0.12" textLength="13.6" lengthAdjust="spacingAndGlyphs">4.0 GPa</text>
<line x1="23.8" y1="197.4" x2="30.200000000000003" y2="197.4" stroke="#90d458" stroke-width="1.2" opacity="0.7"/>
<text x="31.700000000000003" y="198.876" font-family="Liberation Serif" font-size="4.1" font-weight="bold" text-anchor="start" fill="#000" stroke="#000" stroke-width="0.12" textLength="13.6" lengthAdjust="spacingAndGlyphs">4.3 GPa</text>
<line x1="23.8" y1="202.6" x2="30.200000000000003" y2="202.6" stroke="#6e6e6e" stroke-width="1.2" opacity="0.7"/>
<text x="31.700000000000003" y="204.076" font-family="Liberation Serif" font-size="4.1" font-weight="bold" text-anchor="start" fill="#000" stroke="#000" stroke-width="0.12" textLength="13.6" lengthAdjust="spacingAndGlyphs">4.6 GPa</text>
<line x1="173.6" y1="234.8" x2="180.0" y2="234.8" stroke="#86b6ea" stroke-width="1.2" opacity="0.7"/>
<polygon points="176.79999999999998,233.42000000000002 178.17999999999998,234.8 176.79999999999998,236.18 175.42,234.8" fill="#3a86dc"/>
<text x="180.9" y="236.276" font-family="Liberation Serif" font-size="4.1" font-weight="bold" text-anchor="start" fill="#000" stroke="#000" stroke-width="0.12" textLength="14.1" lengthAdjust="spacingAndGlyphs">4.0 GPa</text>
<line x1="173.6" y1="239.7" x2="180.0" y2="239.7" stroke="#90d458" stroke-width="1.2" opacity="0.7"/>
<text x="180.9" y="241.176" font-family="Liberation Serif" font-size="4.1" font-weight="bold" text-anchor="start" fill="#000" stroke="#000" stroke-width="0.12" textLength="14.1" lengthAdjust="spacingAndGlyphs">4.3 GPa</text>
<line x1="173.6" y1="244.4" x2="180.0" y2="244.4" stroke="#6e6e6e" stroke-width="1.2" opacity="0.7"/>
<text x="180.9" y="245.876" font-family="Liberation Serif" font-size="4.1" font-weight="bold" text-anchor="start" fill="#000" stroke="#000" stroke-width="0.12" textLength="14.1" lengthAdjust="spacingAndGlyphs">4.6 GPa</text>
<line x1="325.2" y1="193.4" x2="330.59999999999997" y2="193.4" stroke="#86b6ea" stroke-width="1.2" opacity="0.7"/>
<polygon points="327.9,192.02 329.28,193.4 327.9,194.78 326.52,193.4" fill="#3a86dc"/>
<text x="331.9" y="194.876" font-family="Liberation Serif" font-size="4.1" font-weight="bold" text-anchor="start" fill="#000" stroke="#000" stroke-width="0.12" textLength="13.6" lengthAdjust="spacingAndGlyphs">4.0 GPa</text>
<line x1="325.2" y1="198.4" x2="330.59999999999997" y2="198.4" stroke="#90d458" stroke-width="1.2" opacity="0.7"/>
<text x="331.9" y="199.876" font-family="Liberation Serif" font-size="4.1" font-weight="bold" text-anchor="start" fill="#000" stroke="#000" stroke-width="0.12" textLength="13.6" lengthAdjust="spacingAndGlyphs">4.3 GPa</text>
<line x1="325.2" y1="203.2" x2="330.59999999999997" y2="203.2" stroke="#6e6e6e" stroke-width="1.2" opacity="0.7"/>
<text x="331.9" y="204.676" font-family="Liberation Serif" font-size="4.1" font-weight="bold" text-anchor="start" fill="#000" stroke="#000" stroke-width="0.12" textLength="13.6" lengthAdjust="spacingAndGlyphs">4.6 GPa</text>
<text x="144.4" y="-1.1" font-family="Liberation Serif" font-size="11.3" font-weight="normal" text-anchor="end" fill="#111" stroke="#111" stroke-width="0.18">(a)</text>
<text x="290.2" y="-1.1" font-family="Liberation Serif" font-size="11.3" font-weight="normal" text-anchor="end" fill="#111" stroke="#111" stroke-width="0.18">(d)</text>
<text x="440.3" y="-1.4" font-family="Liberation Serif" font-size="11.3" font-weight="normal" text-anchor="end" fill="#111" stroke="#111" stroke-width="0.18">(g)</text>
<text x="145.1" y="100" font-family="Liberation Serif" font-size="11.3" font-weight="normal" text-anchor="end" fill="#111" stroke="#111" stroke-width="0.18">(b)</text>
<text x="291.3" y="100" font-family="Liberation Serif" font-size="11.3" font-weight="normal" text-anchor="end" fill="#111" stroke="#111" stroke-width="0.18">(e)</text>
<text x="441.3" y="100" font-family="Liberation Serif" font-size="11.3" font-weight="normal" text-anchor="end" fill="#111" stroke="#111" stroke-width="0.18">(h)</text>
<text x="145" y="198.8" font-family="Liberation Serif" font-size="11.3" font-weight="normal" text-anchor="end" fill="#111" stroke="#111" stroke-width="0.18">(c)</text>
<text x="292.5" y="198.8" font-family="Liberation Serif" font-size="11.3" font-weight="normal" text-anchor="end" fill="#111" stroke="#111" stroke-width="0.18">(f)</text>
<text x="443.3" y="198.6" font-family="Liberation Serif" font-size="11.3" font-weight="normal" text-anchor="end" fill="#111" stroke="#111" stroke-width="0.18">(i)</text>
</svg></body></html>
